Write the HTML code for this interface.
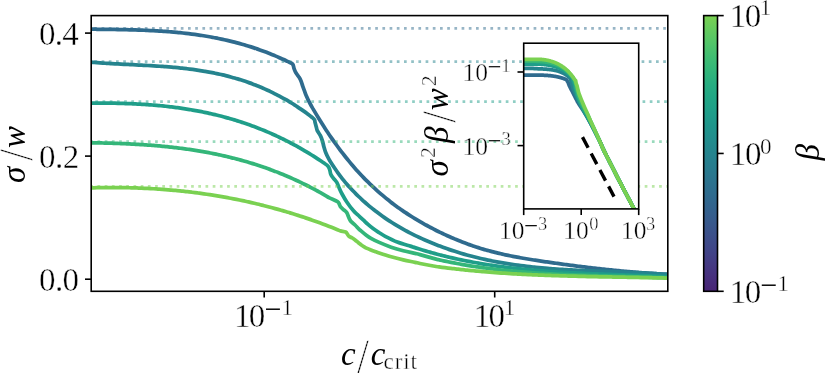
<!DOCTYPE html>
<html><head><meta charset="utf-8"><title>sigma/w vs c/c_crit</title>
<style>html,body{margin:0;padding:0;background:#fff;width:825px;height:373px;overflow:hidden}svg{display:block}text{font-family:"Liberation Serif",serif;fill:#000;stroke:#fff;stroke-width:0.4px}text.ns{stroke:none}</style></head><body>
<svg width="825" height="373" viewBox="0 0 825 373">
<rect x="0" y="0" width="825" height="373" fill="#fff"/>
<defs><clipPath id="axclip"><rect x="91.20" y="15.60" width="576.60" height="275.70"/></clipPath>
<clipPath id="inclip"><rect x="523.70" y="43.20" width="115.00" height="165.70"/></clipPath>
<linearGradient id="cbg" x1="0" y1="1" x2="0" y2="0">
<stop offset="0.000" stop-color="#482475"/>
<stop offset="0.050" stop-color="#472f7d"/>
<stop offset="0.100" stop-color="#443a83"/>
<stop offset="0.150" stop-color="#404588"/>
<stop offset="0.200" stop-color="#3c4f8a"/>
<stop offset="0.250" stop-color="#38598c"/>
<stop offset="0.300" stop-color="#33628d"/>
<stop offset="0.350" stop-color="#2f6b8e"/>
<stop offset="0.400" stop-color="#2c738e"/>
<stop offset="0.450" stop-color="#287c8e"/>
<stop offset="0.500" stop-color="#25848e"/>
<stop offset="0.550" stop-color="#228d8d"/>
<stop offset="0.600" stop-color="#1f958b"/>
<stop offset="0.650" stop-color="#1f9e89"/>
<stop offset="0.700" stop-color="#21a685"/>
<stop offset="0.750" stop-color="#27ad81"/>
<stop offset="0.800" stop-color="#32b67a"/>
<stop offset="0.850" stop-color="#40bd72"/>
<stop offset="0.900" stop-color="#52c569"/>
<stop offset="0.950" stop-color="#65cb5e"/>
<stop offset="1.000" stop-color="#7ad151"/>
</linearGradient></defs>
<g clip-path="url(#axclip)">
<path d="M91.00,29.20 C91.49,29.21 92.98,29.22 93.96,29.23 C94.95,29.24 95.94,29.25 96.93,29.26 C97.91,29.27 98.90,29.28 99.89,29.29 C100.88,29.30 101.86,29.31 102.85,29.32 C103.84,29.33 104.83,29.34 105.81,29.35 C106.80,29.36 107.79,29.38 108.78,29.39 C109.76,29.40 110.75,29.41 111.74,29.43 C112.73,29.44 113.71,29.45 114.70,29.47 C115.69,29.48 116.68,29.50 117.66,29.52 C118.65,29.53 119.64,29.55 120.63,29.57 C121.61,29.59 122.60,29.60 123.59,29.63 C124.58,29.65 125.56,29.67 126.55,29.69 C127.54,29.71 128.53,29.74 129.51,29.76 C130.50,29.79 131.49,29.81 132.48,29.84 C133.47,29.87 134.45,29.90 135.44,29.93 C136.43,29.96 137.42,29.99 138.40,30.02 C139.39,30.06 140.38,30.09 141.37,30.13 C142.35,30.17 143.34,30.20 144.33,30.25 C145.32,30.29 146.30,30.33 147.29,30.37 C148.28,30.42 149.27,30.46 150.25,30.51 C151.24,30.56 152.23,30.61 153.22,30.66 C154.20,30.72 155.19,30.77 156.18,30.83 C157.17,30.89 158.15,30.94 159.14,31.01 C160.13,31.07 161.12,31.13 162.10,31.20 C163.09,31.27 164.08,31.33 165.07,31.41 C166.05,31.48 167.04,31.55 168.03,31.63 C169.02,31.71 170.00,31.79 170.99,31.87 C171.98,31.95 172.97,32.04 173.96,32.13 C174.94,32.21 175.93,32.31 176.92,32.40 C177.91,32.49 178.89,32.59 179.88,32.69 C180.87,32.79 181.86,32.90 182.84,33.00 C183.83,33.11 184.82,33.22 185.81,33.33 C186.79,33.45 187.78,33.57 188.77,33.69 C189.76,33.81 190.74,33.93 191.73,34.06 C192.72,34.19 193.71,34.32 194.69,34.45 C195.68,34.59 196.67,34.73 197.66,34.87 C198.64,35.01 199.63,35.16 200.62,35.31 C201.61,35.46 202.59,35.61 203.58,35.77 C204.57,35.93 205.56,36.09 206.54,36.25 C207.53,36.42 208.52,36.59 209.51,36.77 C210.50,36.94 211.48,37.12 212.47,37.30 C213.46,37.49 214.45,37.67 215.43,37.87 C216.42,38.06 217.41,38.25 218.40,38.46 C219.38,38.66 220.37,38.86 221.36,39.07 C222.35,39.28 223.33,39.50 224.32,39.72 C225.31,39.94 226.30,40.16 227.28,40.39 C228.27,40.62 229.26,40.86 230.25,41.10 C231.23,41.34 232.22,41.58 233.21,41.83 C234.20,42.08 235.18,42.33 236.17,42.59 C237.16,42.86 238.15,43.12 239.13,43.39 C240.12,43.66 241.11,43.94 242.10,44.22 C243.08,44.50 244.07,44.79 245.06,45.08 C246.05,45.37 247.03,45.67 248.02,45.97 C249.01,46.28 250.00,46.59 250.99,46.90 C251.97,47.22 252.96,47.54 253.95,47.87 C254.94,48.19 255.92,48.52 256.91,48.86 C257.90,49.20 258.89,49.55 259.87,49.90 C260.86,50.25 261.85,50.61 262.84,50.97 C263.82,51.33 264.81,51.70 265.80,52.08 C266.79,52.45 267.77,52.84 268.76,53.22 C269.75,53.61 270.74,54.01 271.72,54.41 C272.71,54.81 273.70,55.22 274.69,55.63 C275.67,56.05 276.66,56.47 277.65,56.90 C278.64,57.33 279.62,57.76 280.61,58.20 C281.60,58.64 282.59,59.09 283.57,59.55 C284.56,60.00 285.55,60.47 286.54,60.94 C287.52,61.41 288.46,61.79 289.50,62.37 C290.54,62.94 292.03,63.34 292.80,64.40 C293.57,65.46 293.58,67.30 294.10,68.70 C294.62,70.10 295.03,71.32 295.90,72.80 C296.77,74.28 298.43,76.18 299.30,77.60 C300.17,79.02 300.53,79.88 301.10,81.30 C301.67,82.72 302.17,84.58 302.70,86.10 C303.23,87.62 303.68,88.75 304.30,90.40 C304.92,92.05 305.42,93.74 306.40,96.00 C307.38,98.26 309.07,101.77 310.20,103.96 C311.33,106.14 312.19,107.42 313.18,109.12 C314.17,110.82 315.17,112.49 316.16,114.15 C317.15,115.80 318.15,117.43 319.14,119.05 C320.13,120.66 321.13,122.25 322.12,123.81 C323.11,125.38 324.11,126.93 325.10,128.45 C326.09,129.98 327.09,131.48 328.08,132.97 C329.07,134.45 330.07,135.91 331.06,137.35 C332.05,138.80 333.05,140.22 334.04,141.62 C335.03,143.02 336.03,144.40 337.02,145.76 C338.01,147.12 339.01,148.46 340.00,149.79 C340.99,151.11 341.99,152.41 342.98,153.69 C343.97,154.97 344.97,156.24 345.96,157.48 C346.95,158.72 347.95,159.95 348.94,161.15 C349.93,162.36 350.93,163.55 351.92,164.71 C352.91,165.88 353.91,167.03 354.90,168.16 C355.89,169.29 356.89,170.41 357.88,171.50 C358.87,172.60 359.87,173.68 360.86,174.74 C361.85,175.80 362.85,176.84 363.84,177.87 C364.83,178.90 365.83,179.91 366.82,180.90 C367.81,181.90 368.81,182.88 369.80,183.84 C370.79,184.80 371.79,185.75 372.78,186.68 C373.77,187.61 374.77,188.53 375.76,189.43 C376.75,190.33 377.75,191.22 378.74,192.10 C379.73,192.97 380.73,193.83 381.72,194.67 C382.71,195.52 383.71,196.35 384.70,197.17 C385.69,197.99 386.69,198.80 387.68,199.59 C388.67,200.38 389.67,201.16 390.66,201.93 C391.65,202.70 392.65,203.46 393.64,204.20 C394.63,204.95 395.63,205.68 396.62,206.40 C397.61,207.13 398.61,207.84 399.60,208.54 C400.59,209.24 401.59,209.93 402.58,210.61 C403.57,211.29 404.57,211.96 405.56,212.62 C406.55,213.28 407.55,213.93 408.54,214.57 C409.53,215.21 410.53,215.84 411.52,216.47 C412.51,217.09 413.51,217.71 414.50,218.31 C415.49,218.92 416.49,219.52 417.48,220.11 C418.47,220.70 419.47,221.28 420.46,221.86 C421.45,222.44 422.45,223.01 423.44,223.57 C424.43,224.13 425.43,224.69 426.42,225.23 C427.41,225.78 428.41,226.32 429.40,226.86 C430.39,227.39 431.39,227.92 432.38,228.44 C433.37,228.96 434.37,229.47 435.36,229.97 C436.35,230.48 437.35,230.98 438.34,231.47 C439.33,231.96 440.33,232.45 441.32,232.93 C442.31,233.40 443.31,233.88 444.30,234.34 C445.29,234.80 446.29,235.26 447.28,235.71 C448.27,236.16 449.27,236.61 450.26,237.05 C451.25,237.48 452.25,237.91 453.24,238.34 C454.23,238.76 455.23,239.18 456.22,239.59 C457.21,240.00 458.21,240.40 459.20,240.80 C460.19,241.20 461.19,241.59 462.18,241.97 C463.17,242.36 464.17,242.74 465.16,243.11 C466.15,243.48 467.15,243.84 468.14,244.20 C469.13,244.56 470.13,244.91 471.12,245.26 C472.11,245.61 473.11,245.94 474.10,246.28 C475.09,246.61 476.09,246.94 477.08,247.26 C478.07,247.58 479.07,247.89 480.06,248.20 C481.05,248.51 482.05,248.81 483.04,249.10 C484.03,249.40 485.03,249.69 486.02,249.97 C487.01,250.25 488.01,250.53 489.00,250.80 C489.99,251.07 490.99,251.34 491.98,251.60 C492.97,251.86 493.97,252.11 494.96,252.36 C495.95,252.61 496.95,252.85 497.94,253.09 C498.93,253.33 499.93,253.57 500.92,253.80 C501.91,254.02 502.91,254.25 503.90,254.47 C504.89,254.69 505.89,254.90 506.88,255.12 C507.87,255.33 508.87,255.53 509.86,255.74 C510.85,255.94 511.85,256.14 512.84,256.33 C513.83,256.53 514.83,256.72 515.82,256.91 C516.81,257.10 517.81,257.28 518.80,257.46 C519.79,257.64 520.79,257.82 521.78,258.00 C522.77,258.17 523.77,258.35 524.76,258.51 C525.75,258.68 526.75,258.85 527.74,259.02 C528.73,259.18 529.73,259.34 530.72,259.50 C531.71,259.66 532.71,259.82 533.70,259.98 C534.69,260.13 535.69,260.29 536.68,260.44 C537.67,260.59 538.67,260.74 539.66,260.89 C540.65,261.04 541.65,261.19 542.64,261.33 C543.63,261.48 544.63,261.63 545.62,261.77 C546.61,261.92 547.61,262.06 548.60,262.20 C549.59,262.35 550.59,262.49 551.58,262.63 C552.57,262.77 553.57,262.91 554.56,263.05 C555.55,263.19 556.55,263.33 557.54,263.47 C558.53,263.61 559.53,263.74 560.52,263.88 C561.51,264.02 562.51,264.15 563.50,264.29 C564.49,264.42 565.49,264.56 566.48,264.69 C567.47,264.82 568.47,264.95 569.46,265.08 C570.45,265.22 571.45,265.35 572.44,265.47 C573.43,265.60 574.43,265.73 575.42,265.86 C576.41,265.99 577.41,266.11 578.40,266.24 C579.39,266.36 580.39,266.49 581.38,266.61 C582.37,266.73 583.37,266.86 584.36,266.98 C585.35,267.10 586.35,267.22 587.34,267.34 C588.33,267.46 589.33,267.58 590.32,267.69 C591.31,267.81 592.31,267.93 593.30,268.04 C594.29,268.16 595.29,268.27 596.28,268.38 C597.27,268.50 598.27,268.61 599.26,268.72 C600.25,268.83 601.25,268.94 602.24,269.05 C603.23,269.15 604.23,269.26 605.22,269.37 C606.21,269.47 607.21,269.58 608.20,269.68 C609.19,269.79 610.19,269.89 611.18,269.99 C612.17,270.09 613.17,270.19 614.16,270.29 C615.15,270.39 616.15,270.49 617.14,270.58 C618.13,270.68 619.13,270.77 620.12,270.87 C621.11,270.96 622.11,271.05 623.10,271.15 C624.09,271.24 625.09,271.33 626.08,271.42 C627.07,271.50 628.07,271.59 629.06,271.68 C630.05,271.76 631.05,271.85 632.04,271.93 C633.03,272.02 634.03,272.10 635.02,272.18 C636.01,272.26 637.01,272.34 638.00,272.42 C638.99,272.50 639.99,272.57 640.98,272.65 C641.97,272.72 642.97,272.80 643.96,272.87 C644.95,272.94 645.95,273.01 646.94,273.08 C647.93,273.15 648.93,273.22 649.92,273.29 C650.91,273.36 651.91,273.42 652.90,273.49 C653.89,273.55 654.89,273.61 655.88,273.67 C656.87,273.73 657.87,273.79 658.86,273.85 C659.85,273.91 660.85,273.97 661.84,274.02 C662.83,274.08 663.83,274.13 664.82,274.18 C665.81,274.23 667.30,274.31 667.80,274.33" fill="none" stroke="#2f6b8e" stroke-width="3.75" stroke-linejoin="round" stroke-linecap="butt"/>
<path d="M91.00,62.17 C91.50,62.21 92.99,62.34 93.99,62.42 C94.99,62.49 95.99,62.57 96.98,62.65 C97.98,62.72 98.98,62.79 99.97,62.86 C100.97,62.93 101.97,63.00 102.97,63.07 C103.96,63.13 104.96,63.20 105.96,63.26 C106.96,63.32 107.95,63.38 108.95,63.45 C109.95,63.51 110.94,63.56 111.94,63.62 C112.94,63.68 113.94,63.73 114.93,63.79 C115.93,63.85 116.93,63.90 117.92,63.95 C118.92,64.01 119.92,64.06 120.92,64.11 C121.91,64.16 122.91,64.21 123.91,64.26 C124.91,64.32 125.90,64.37 126.90,64.42 C127.90,64.47 128.89,64.52 129.89,64.57 C130.89,64.62 131.89,64.67 132.88,64.72 C133.88,64.77 134.88,64.82 135.88,64.87 C136.87,64.92 137.87,64.97 138.87,65.02 C139.86,65.07 140.86,65.12 141.86,65.18 C142.86,65.23 143.85,65.28 144.85,65.34 C145.85,65.39 146.84,65.45 147.84,65.50 C148.84,65.56 149.84,65.62 150.83,65.68 C151.83,65.74 152.83,65.80 153.82,65.86 C154.82,65.92 155.82,65.98 156.82,66.05 C157.81,66.11 158.81,66.18 159.81,66.25 C160.81,66.32 161.80,66.39 162.80,66.46 C163.80,66.54 164.79,66.61 165.79,66.69 C166.79,66.76 167.79,66.84 168.78,66.93 C169.78,67.01 170.78,67.09 171.77,67.18 C172.77,67.27 173.77,67.36 174.77,67.45 C175.76,67.54 176.76,67.64 177.76,67.74 C178.76,67.84 179.75,67.94 180.75,68.04 C181.75,68.15 182.74,68.26 183.74,68.37 C184.74,68.48 185.74,68.60 186.73,68.71 C187.73,68.83 188.73,68.96 189.72,69.08 C190.72,69.21 191.72,69.34 192.72,69.47 C193.71,69.61 194.71,69.75 195.71,69.89 C196.71,70.03 197.70,70.18 198.70,70.33 C199.70,70.48 200.69,70.64 201.69,70.80 C202.69,70.96 203.69,71.12 204.68,71.29 C205.68,71.46 206.68,71.64 207.67,71.82 C208.67,72.00 209.67,72.18 210.67,72.37 C211.66,72.56 212.66,72.76 213.66,72.96 C214.66,73.16 215.65,73.37 216.65,73.58 C217.65,73.79 218.64,74.01 219.64,74.23 C220.64,74.45 221.64,74.68 222.63,74.92 C223.63,75.15 224.63,75.39 225.62,75.64 C226.62,75.89 227.62,76.14 228.62,76.40 C229.61,76.66 230.61,76.93 231.61,77.20 C232.61,77.47 233.60,77.75 234.60,78.04 C235.60,78.32 236.59,78.61 237.59,78.91 C238.59,79.21 239.59,79.52 240.58,79.84 C241.58,80.15 242.58,80.47 243.57,80.80 C244.57,81.13 245.57,81.46 246.57,81.81 C247.56,82.15 248.56,82.50 249.56,82.86 C250.56,83.22 251.55,83.58 252.55,83.96 C253.55,84.33 254.54,84.72 255.54,85.11 C256.54,85.50 257.54,85.90 258.53,86.30 C259.53,86.71 260.53,87.12 261.52,87.55 C262.52,87.97 263.52,88.40 264.52,88.85 C265.51,89.29 266.51,89.74 267.51,90.20 C268.51,90.65 269.50,91.12 270.50,91.60 C271.50,92.08 272.49,92.56 273.49,93.06 C274.49,93.55 275.49,94.06 276.48,94.57 C277.48,95.08 278.48,95.61 279.47,96.14 C280.47,96.67 281.47,97.22 282.47,97.77 C283.46,98.32 284.46,98.89 285.46,99.46 C286.46,100.03 287.45,100.61 288.45,101.21 C289.45,101.80 290.44,102.40 291.44,103.02 C292.44,103.63 293.44,104.26 294.43,104.89 C295.43,105.53 296.43,106.17 297.42,106.83 C298.42,107.49 299.42,108.15 300.42,108.83 C301.41,109.51 302.41,110.20 303.41,110.90 C304.41,111.60 304.65,111.69 306.40,113.04 C308.15,114.39 312.47,117.47 313.90,119.00 C315.33,120.53 314.60,120.87 315.00,122.20 C315.40,123.53 315.92,125.60 316.30,127.00 C316.68,128.40 316.62,129.15 317.30,130.60 C317.98,132.05 319.53,133.95 320.40,135.70 C321.27,137.45 321.93,139.32 322.50,141.10 C323.07,142.88 323.27,144.50 323.80,146.40 C324.33,148.30 324.85,150.36 325.70,152.50 C326.55,154.64 327.87,157.29 328.90,159.21 C329.93,161.14 330.90,162.47 331.90,164.03 C332.90,165.59 333.90,167.10 334.90,168.56 C335.90,170.03 336.90,171.44 337.90,172.82 C338.90,174.20 339.90,175.54 340.90,176.84 C341.90,178.13 342.90,179.39 343.90,180.62 C344.90,181.84 345.89,183.03 346.89,184.19 C347.89,185.35 348.89,186.47 349.89,187.57 C350.89,188.66 351.89,189.73 352.89,190.77 C353.89,191.81 354.89,192.83 355.89,193.82 C356.89,194.82 357.89,195.78 358.89,196.74 C359.89,197.69 360.89,198.62 361.89,199.54 C362.89,200.45 363.89,201.35 364.89,202.23 C365.89,203.12 366.89,203.98 367.89,204.83 C368.89,205.69 369.89,206.52 370.89,207.34 C371.89,208.16 372.89,208.97 373.89,209.76 C374.89,210.55 375.89,211.33 376.89,212.09 C377.89,212.85 378.89,213.60 379.88,214.34 C380.88,215.07 381.88,215.79 382.88,216.50 C383.88,217.21 384.88,217.90 385.88,218.59 C386.88,219.27 387.88,219.94 388.88,220.60 C389.88,221.26 390.88,221.90 391.88,222.54 C392.88,223.17 393.88,223.79 394.88,224.41 C395.88,225.02 396.88,225.62 397.88,226.21 C398.88,226.80 399.88,227.38 400.88,227.95 C401.88,228.52 402.88,229.08 403.88,229.63 C404.88,230.18 405.88,230.73 406.88,231.26 C407.88,231.79 408.88,232.31 409.88,232.83 C410.88,233.34 411.88,233.85 412.88,234.35 C413.87,234.85 414.87,235.34 415.87,235.82 C416.87,236.30 417.87,236.78 418.87,237.24 C419.87,237.71 420.87,238.17 421.87,238.63 C422.87,239.08 423.87,239.53 424.87,239.97 C425.87,240.42 426.87,240.85 427.87,241.28 C428.87,241.71 429.87,242.13 430.87,242.54 C431.87,242.96 432.87,243.37 433.87,243.77 C434.87,244.17 435.87,244.57 436.87,244.96 C437.87,245.35 438.87,245.74 439.87,246.11 C440.87,246.49 441.87,246.86 442.87,247.23 C443.87,247.60 444.87,247.96 445.87,248.31 C446.87,248.66 447.86,249.01 448.86,249.36 C449.86,249.70 450.86,250.04 451.86,250.37 C452.86,250.70 453.86,251.02 454.86,251.34 C455.86,251.66 456.86,251.98 457.86,252.29 C458.86,252.60 459.86,252.90 460.86,253.20 C461.86,253.50 462.86,253.79 463.86,254.08 C464.86,254.37 465.86,254.65 466.86,254.93 C467.86,255.21 468.86,255.48 469.86,255.75 C470.86,256.01 471.86,256.28 472.86,256.53 C473.86,256.79 474.86,257.04 475.86,257.29 C476.86,257.54 477.86,257.78 478.86,258.02 C479.86,258.26 480.86,258.50 481.85,258.72 C482.85,258.95 483.85,259.18 484.85,259.40 C485.85,259.62 486.85,259.84 487.85,260.05 C488.85,260.26 489.85,260.47 490.85,260.67 C491.85,260.87 492.85,261.07 493.85,261.27 C494.85,261.46 495.85,261.65 496.85,261.84 C497.85,262.02 498.85,262.21 499.85,262.39 C500.85,262.56 501.85,262.74 502.85,262.91 C503.85,263.08 504.85,263.25 505.85,263.41 C506.85,263.58 507.85,263.74 508.85,263.89 C509.85,264.05 510.85,264.20 511.85,264.35 C512.85,264.50 513.85,264.64 514.85,264.79 C515.84,264.93 516.84,265.07 517.84,265.20 C518.84,265.34 519.84,265.47 520.84,265.60 C521.84,265.73 522.84,265.86 523.84,265.98 C524.84,266.10 525.84,266.22 526.84,266.34 C527.84,266.46 528.84,266.57 529.84,266.68 C530.84,266.79 531.84,266.90 532.84,267.01 C533.84,267.11 534.84,267.22 535.84,267.32 C536.84,267.42 537.84,267.52 538.84,267.61 C539.84,267.71 540.84,267.80 541.84,267.89 C542.84,267.98 543.84,268.07 544.84,268.15 C545.84,268.24 546.84,268.32 547.84,268.40 C548.84,268.48 549.83,268.56 550.83,268.64 C551.83,268.72 552.83,268.79 553.83,268.87 C554.83,268.94 555.83,269.01 556.83,269.08 C557.83,269.15 558.83,269.22 559.83,269.28 C560.83,269.35 561.83,269.41 562.83,269.47 C563.83,269.53 564.83,269.60 565.83,269.65 C566.83,269.71 567.83,269.77 568.83,269.83 C569.83,269.88 570.83,269.94 571.83,269.99 C572.83,270.04 573.83,270.10 574.83,270.15 C575.83,270.20 576.83,270.25 577.83,270.30 C578.83,270.34 579.83,270.39 580.83,270.44 C581.83,270.48 582.83,270.53 583.82,270.57 C584.82,270.62 585.82,270.66 586.82,270.70 C587.82,270.75 588.82,270.79 589.82,270.83 C590.82,270.87 591.82,270.91 592.82,270.95 C593.82,270.99 594.82,271.03 595.82,271.07 C596.82,271.11 597.82,271.15 598.82,271.19 C599.82,271.23 600.82,271.26 601.82,271.30 C602.82,271.34 603.82,271.38 604.82,271.41 C605.82,271.45 606.82,271.49 607.82,271.53 C608.82,271.56 609.82,271.60 610.82,271.64 C611.82,271.67 612.82,271.71 613.82,271.75 C614.82,271.79 615.82,271.82 616.82,271.86 C617.81,271.90 618.81,271.94 619.81,271.98 C620.81,272.02 621.81,272.06 622.81,272.09 C623.81,272.13 624.81,272.17 625.81,272.22 C626.81,272.26 627.81,272.30 628.81,272.34 C629.81,272.38 630.81,272.42 631.81,272.47 C632.81,272.51 633.81,272.56 634.81,272.60 C635.81,272.65 636.81,272.69 637.81,272.74 C638.81,272.79 639.81,272.84 640.81,272.89 C641.81,272.94 642.81,272.99 643.81,273.04 C644.81,273.09 645.81,273.15 646.81,273.20 C647.81,273.26 648.81,273.31 649.81,273.37 C650.81,273.43 651.80,273.49 652.80,273.55 C653.80,273.61 654.80,273.67 655.80,273.73 C656.80,273.80 657.80,273.86 658.80,273.93 C659.80,274.00 660.80,274.07 661.80,274.14 C662.80,274.21 663.80,274.28 664.80,274.36 C665.80,274.43 667.30,274.55 667.80,274.59" fill="none" stroke="#25848e" stroke-width="3.75" stroke-linejoin="round" stroke-linecap="butt"/>
<path d="M91.00,103.13 C91.50,103.13 92.99,103.12 93.99,103.11 C94.98,103.11 95.98,103.10 96.97,103.10 C97.97,103.10 98.97,103.10 99.96,103.10 C100.96,103.10 101.95,103.10 102.95,103.10 C103.95,103.11 104.94,103.11 105.94,103.12 C106.93,103.13 107.93,103.14 108.92,103.15 C109.92,103.16 110.92,103.17 111.91,103.19 C112.91,103.20 113.90,103.22 114.90,103.24 C115.89,103.25 116.89,103.27 117.89,103.30 C118.88,103.32 119.88,103.34 120.87,103.37 C121.87,103.40 122.86,103.42 123.86,103.46 C124.86,103.49 125.85,103.52 126.85,103.55 C127.84,103.59 128.84,103.63 129.84,103.67 C130.83,103.71 131.83,103.75 132.82,103.79 C133.82,103.84 134.81,103.89 135.81,103.94 C136.81,103.99 137.80,104.04 138.80,104.09 C139.79,104.15 140.79,104.20 141.78,104.26 C142.78,104.32 143.78,104.39 144.77,104.45 C145.77,104.52 146.76,104.59 147.76,104.66 C148.76,104.73 149.75,104.80 150.75,104.88 C151.74,104.96 152.74,105.04 153.73,105.12 C154.73,105.20 155.73,105.29 156.72,105.38 C157.72,105.46 158.71,105.56 159.71,105.65 C160.70,105.75 161.70,105.84 162.70,105.95 C163.69,106.05 164.69,106.15 165.68,106.26 C166.68,106.37 167.68,106.48 168.67,106.59 C169.67,106.71 170.66,106.83 171.66,106.95 C172.65,107.07 173.65,107.19 174.65,107.32 C175.64,107.45 176.64,107.58 177.63,107.72 C178.63,107.85 179.62,107.99 180.62,108.14 C181.62,108.28 182.61,108.43 183.61,108.58 C184.60,108.73 185.60,108.88 186.59,109.04 C187.59,109.20 188.59,109.36 189.58,109.53 C190.58,109.69 191.57,109.86 192.57,110.03 C193.57,110.21 194.56,110.39 195.56,110.57 C196.55,110.75 197.55,110.94 198.54,111.13 C199.54,111.32 200.54,111.51 201.53,111.71 C202.53,111.91 203.52,112.11 204.52,112.32 C205.51,112.53 206.51,112.74 207.51,112.95 C208.50,113.17 209.50,113.39 210.49,113.62 C211.49,113.84 212.49,114.07 213.48,114.30 C214.48,114.54 215.47,114.78 216.47,115.02 C217.46,115.26 218.46,115.51 219.46,115.76 C220.45,116.02 221.45,116.27 222.44,116.54 C223.44,116.80 224.43,117.06 225.43,117.34 C226.43,117.61 227.42,117.88 228.42,118.17 C229.41,118.45 230.41,118.73 231.41,119.03 C232.40,119.32 233.40,119.62 234.39,119.92 C235.39,120.22 236.38,120.53 237.38,120.84 C238.38,121.15 239.37,121.47 240.37,121.79 C241.36,122.11 242.36,122.44 243.35,122.77 C244.35,123.11 245.35,123.45 246.34,123.79 C247.34,124.14 248.33,124.48 249.33,124.84 C250.32,125.20 251.32,125.56 252.32,125.92 C253.31,126.29 254.31,126.66 255.30,127.04 C256.30,127.42 257.30,127.80 258.29,128.19 C259.29,128.58 260.28,128.97 261.28,129.37 C262.27,129.77 263.27,130.18 264.27,130.59 C265.26,131.00 266.26,131.42 267.25,131.85 C268.25,132.27 269.24,132.70 270.24,133.14 C271.24,133.57 272.23,134.02 273.23,134.46 C274.22,134.91 275.22,135.37 276.22,135.83 C277.21,136.29 278.21,136.76 279.20,137.23 C280.20,137.70 281.19,138.18 282.19,138.67 C283.19,139.16 284.18,139.65 285.18,140.15 C286.17,140.65 287.17,141.15 288.16,141.67 C289.16,142.18 290.16,142.70 291.15,143.22 C292.15,143.75 293.14,144.28 294.14,144.82 C295.14,145.36 296.13,145.90 297.13,146.45 C298.12,147.01 299.12,147.56 300.11,148.13 C301.11,148.70 302.11,149.27 303.10,149.85 C304.10,150.43 305.09,151.01 306.09,151.61 C307.08,152.20 308.08,152.80 309.08,153.41 C310.07,154.02 311.07,154.63 312.06,155.25 C313.06,155.88 314.05,156.51 315.05,157.14 C316.05,157.78 317.04,158.42 318.04,159.07 C319.03,159.72 320.03,160.38 321.03,161.05 C322.02,161.71 323.02,162.39 324.01,163.07 C325.01,163.75 326.24,164.48 327.00,165.13 C327.76,165.79 328.13,166.19 328.60,167.00 C329.07,167.81 329.42,168.73 329.80,170.00 C330.18,171.27 330.28,173.22 330.90,174.60 C331.52,175.98 332.52,177.00 333.50,178.30 C334.48,179.60 335.85,180.78 336.80,182.40 C337.75,184.02 338.37,186.15 339.20,188.00 C340.03,189.85 340.53,191.17 341.80,193.50 C343.07,195.83 344.85,199.12 346.80,202.00 C348.75,204.88 351.55,208.55 353.50,210.80 C355.45,213.05 356.83,213.93 358.50,215.50 C360.17,217.07 361.92,218.72 363.50,220.20 C365.08,221.68 366.40,223.00 368.00,224.40 C369.60,225.80 371.27,227.25 373.10,228.60 C374.93,229.95 376.98,231.22 379.00,232.50 C381.02,233.78 382.15,234.72 385.20,236.30 C388.25,237.88 393.10,240.36 397.30,242.00 C401.50,243.64 407.72,245.28 410.40,246.13 C413.08,246.98 412.40,246.80 413.39,247.13 C414.39,247.45 415.39,247.78 416.39,248.10 C417.38,248.42 418.38,248.73 419.38,249.04 C420.38,249.35 421.37,249.66 422.37,249.97 C423.37,250.27 424.37,250.57 425.37,250.86 C426.36,251.16 427.36,251.45 428.36,251.74 C429.36,252.02 430.35,252.31 431.35,252.59 C432.35,252.86 433.35,253.14 434.34,253.41 C435.34,253.68 436.34,253.95 437.34,254.22 C438.33,254.48 439.33,254.74 440.33,255.00 C441.33,255.25 442.33,255.51 443.32,255.76 C444.32,256.01 445.32,256.25 446.32,256.50 C447.31,256.74 448.31,256.98 449.31,257.21 C450.31,257.45 451.30,257.68 452.30,257.91 C453.30,258.14 454.30,258.36 455.30,258.58 C456.29,258.80 457.29,259.02 458.29,259.24 C459.29,259.45 460.28,259.66 461.28,259.87 C462.28,260.08 463.28,260.29 464.27,260.49 C465.27,260.69 466.27,260.89 467.27,261.09 C468.27,261.28 469.26,261.47 470.26,261.66 C471.26,261.85 472.26,262.04 473.25,262.22 C474.25,262.41 475.25,262.59 476.25,262.76 C477.24,262.94 478.24,263.12 479.24,263.29 C480.24,263.46 481.23,263.63 482.23,263.80 C483.23,263.96 484.23,264.12 485.23,264.29 C486.22,264.45 487.22,264.60 488.22,264.76 C489.22,264.91 490.21,265.07 491.21,265.22 C492.21,265.37 493.21,265.51 494.20,265.66 C495.20,265.80 496.20,265.94 497.20,266.08 C498.20,266.22 499.19,266.36 500.19,266.49 C501.19,266.63 502.19,266.76 503.18,266.89 C504.18,267.02 505.18,267.15 506.18,267.27 C507.17,267.40 508.17,267.52 509.17,267.64 C510.17,267.76 511.17,267.88 512.16,268.00 C513.16,268.11 514.16,268.23 515.16,268.34 C516.15,268.45 517.15,268.56 518.15,268.67 C519.15,268.77 520.14,268.88 521.14,268.98 C522.14,269.08 523.14,269.19 524.13,269.29 C525.13,269.38 526.13,269.48 527.13,269.58 C528.13,269.67 529.12,269.77 530.12,269.86 C531.12,269.95 532.12,270.04 533.11,270.13 C534.11,270.22 535.11,270.30 536.11,270.39 C537.10,270.47 538.10,270.55 539.10,270.64 C540.10,270.72 541.10,270.80 542.09,270.87 C543.09,270.95 544.09,271.03 545.09,271.10 C546.08,271.18 547.08,271.25 548.08,271.32 C549.08,271.40 550.07,271.47 551.07,271.53 C552.07,271.60 553.07,271.67 554.07,271.74 C555.06,271.80 556.06,271.87 557.06,271.93 C558.06,272.00 559.05,272.06 560.05,272.12 C561.05,272.18 562.05,272.24 563.04,272.30 C564.04,272.36 565.04,272.42 566.04,272.47 C567.03,272.53 568.03,272.58 569.03,272.64 C570.03,272.69 571.03,272.75 572.02,272.80 C573.02,272.85 574.02,272.90 575.02,272.95 C576.01,273.00 577.01,273.05 578.01,273.10 C579.01,273.15 580.00,273.20 581.00,273.24 C582.00,273.29 583.00,273.34 584.00,273.38 C584.99,273.43 585.99,273.47 586.99,273.52 C587.99,273.56 588.98,273.60 589.98,273.65 C590.98,273.69 591.98,273.73 592.97,273.77 C593.97,273.81 594.97,273.86 595.97,273.90 C596.97,273.94 597.96,273.98 598.96,274.02 C599.96,274.06 600.96,274.10 601.95,274.13 C602.95,274.17 603.95,274.21 604.95,274.25 C605.94,274.29 606.94,274.33 607.94,274.36 C608.94,274.40 609.93,274.44 610.93,274.48 C611.93,274.51 612.93,274.55 613.93,274.59 C614.92,274.62 615.92,274.66 616.92,274.70 C617.92,274.73 618.91,274.77 619.91,274.81 C620.91,274.84 621.91,274.88 622.90,274.92 C623.90,274.95 624.90,274.99 625.90,275.03 C626.90,275.06 627.89,275.10 628.89,275.14 C629.89,275.17 630.89,275.21 631.88,275.25 C632.88,275.29 633.88,275.32 634.88,275.36 C635.87,275.40 636.87,275.44 637.87,275.48 C638.87,275.52 639.87,275.56 640.86,275.60 C641.86,275.63 642.86,275.67 643.86,275.72 C644.85,275.76 645.85,275.80 646.85,275.84 C647.85,275.88 648.84,275.92 649.84,275.96 C650.84,276.01 651.84,276.05 652.83,276.09 C653.83,276.14 654.83,276.18 655.83,276.23 C656.83,276.27 657.82,276.32 658.82,276.37 C659.82,276.41 660.82,276.46 661.81,276.51 C662.81,276.56 663.81,276.61 664.81,276.66 C665.80,276.71 667.30,276.79 667.80,276.81" fill="none" stroke="#1f9e89" stroke-width="3.75" stroke-linejoin="round" stroke-linecap="butt"/>
<path d="M91.00,142.76 C91.50,142.77 92.99,142.79 93.98,142.81 C94.97,142.83 95.97,142.85 96.96,142.87 C97.95,142.89 98.95,142.91 99.94,142.93 C100.93,142.95 101.93,142.97 102.92,143.00 C103.91,143.02 104.91,143.05 105.90,143.07 C106.89,143.10 107.89,143.13 108.88,143.16 C109.87,143.18 110.87,143.21 111.86,143.24 C112.85,143.27 113.85,143.31 114.84,143.34 C115.83,143.37 116.83,143.41 117.82,143.44 C118.81,143.48 119.81,143.52 120.80,143.56 C121.79,143.60 122.79,143.64 123.78,143.68 C124.77,143.72 125.77,143.77 126.76,143.81 C127.75,143.86 128.75,143.90 129.74,143.95 C130.73,144.00 131.73,144.05 132.72,144.10 C133.71,144.15 134.71,144.21 135.70,144.26 C136.69,144.32 137.69,144.38 138.68,144.44 C139.67,144.50 140.67,144.56 141.66,144.62 C142.65,144.68 143.65,144.75 144.64,144.82 C145.63,144.88 146.63,144.95 147.62,145.02 C148.61,145.09 149.61,145.17 150.60,145.24 C151.59,145.32 152.59,145.40 153.58,145.48 C154.57,145.56 155.57,145.64 156.56,145.73 C157.55,145.81 158.55,145.90 159.54,145.99 C160.53,146.08 161.53,146.17 162.52,146.26 C163.51,146.36 164.51,146.45 165.50,146.55 C166.49,146.65 167.49,146.75 168.48,146.86 C169.47,146.96 170.47,147.07 171.46,147.18 C172.45,147.29 173.45,147.40 174.44,147.52 C175.43,147.63 176.43,147.75 177.42,147.87 C178.41,147.99 179.41,148.12 180.40,148.24 C181.39,148.37 182.39,148.50 183.38,148.63 C184.37,148.76 185.37,148.90 186.36,149.04 C187.35,149.18 188.35,149.32 189.34,149.46 C190.33,149.61 191.33,149.75 192.32,149.90 C193.31,150.06 194.31,150.21 195.30,150.37 C196.29,150.52 197.29,150.68 198.28,150.85 C199.27,151.01 200.27,151.18 201.26,151.35 C202.25,151.52 203.25,151.69 204.24,151.87 C205.23,152.05 206.23,152.23 207.22,152.41 C208.21,152.60 209.21,152.79 210.20,152.98 C211.19,153.17 212.19,153.37 213.18,153.56 C214.17,153.76 215.17,153.97 216.16,154.17 C217.15,154.38 218.15,154.59 219.14,154.80 C220.13,155.02 221.13,155.23 222.12,155.46 C223.11,155.68 224.11,155.90 225.10,156.13 C226.09,156.36 227.09,156.59 228.08,156.83 C229.07,157.07 230.07,157.31 231.06,157.56 C232.05,157.80 233.05,158.05 234.04,158.31 C235.03,158.56 236.03,158.82 237.02,159.08 C238.01,159.34 239.01,159.61 240.00,159.88 C240.99,160.15 241.99,160.43 242.98,160.71 C243.97,160.99 244.97,161.27 245.96,161.56 C246.95,161.85 247.95,162.14 248.94,162.44 C249.93,162.73 250.93,163.04 251.92,163.34 C252.91,163.65 253.91,163.96 254.90,164.28 C255.89,164.59 256.89,164.91 257.88,165.24 C258.87,165.56 259.87,165.89 260.86,166.23 C261.85,166.56 262.85,166.90 263.84,167.25 C264.83,167.59 265.83,167.94 266.82,168.29 C267.81,168.65 268.81,169.01 269.80,169.37 C270.79,169.74 271.79,170.11 272.78,170.48 C273.77,170.86 274.77,171.23 275.76,171.62 C276.75,172.00 277.75,172.39 278.74,172.79 C279.73,173.18 280.73,173.58 281.72,173.99 C282.71,174.40 283.71,174.81 284.70,175.22 C285.69,175.64 286.69,176.06 287.68,176.49 C288.67,176.92 289.67,177.35 290.66,177.79 C291.65,178.23 292.65,178.67 293.64,179.12 C294.63,179.57 295.63,180.02 296.62,180.48 C297.61,180.94 298.61,181.41 299.60,181.88 C300.59,182.35 301.59,182.83 302.58,183.32 C303.57,183.80 304.57,184.29 305.56,184.78 C306.55,185.28 307.55,185.78 308.54,186.29 C309.53,186.80 310.53,187.31 311.52,187.83 C312.51,188.35 313.51,188.87 314.50,189.40 C315.49,189.93 316.49,190.47 317.48,191.01 C318.47,191.56 319.47,192.11 320.46,192.66 C321.45,193.22 322.45,193.78 323.44,194.35 C324.43,194.92 325.43,195.49 326.42,196.07 C327.41,196.66 327.55,196.92 329.40,197.84 C331.25,198.76 335.90,200.66 337.50,201.60 C339.10,202.54 338.52,202.67 339.00,203.50 C339.48,204.33 339.67,205.58 340.40,206.60 C341.13,207.62 342.37,208.63 343.40,209.60 C344.43,210.57 345.73,211.17 346.60,212.40 C347.47,213.63 347.90,215.53 348.60,217.00 C349.30,218.47 349.73,219.87 350.80,221.20 C351.87,222.53 353.68,223.72 355.00,225.00 C356.32,226.28 357.70,227.92 358.70,228.90 C359.70,229.88 359.78,229.88 361.00,230.90 C362.22,231.92 364.33,233.75 366.00,235.00 C367.67,236.25 368.80,237.17 371.00,238.40 C373.20,239.63 375.83,240.93 379.20,242.40 C382.57,243.87 387.18,245.80 391.20,247.20 C395.22,248.60 399.33,249.77 403.30,250.80 C407.27,251.83 412.22,252.77 415.00,253.40 C417.78,254.03 416.48,253.64 420.00,254.60 C423.52,255.56 432.92,258.27 436.10,259.14 C439.28,260.01 438.08,259.60 439.07,259.82 C440.06,260.04 441.05,260.26 442.04,260.48 C443.03,260.69 444.02,260.91 445.01,261.12 C446.00,261.33 446.99,261.53 447.98,261.74 C448.97,261.94 449.96,262.14 450.95,262.34 C451.94,262.53 452.93,262.73 453.92,262.92 C454.91,263.11 455.90,263.30 456.89,263.48 C457.88,263.67 458.87,263.85 459.86,264.03 C460.85,264.21 461.84,264.38 462.83,264.56 C463.82,264.73 464.81,264.90 465.81,265.07 C466.80,265.24 467.79,265.40 468.78,265.56 C469.77,265.73 470.76,265.89 471.75,266.04 C472.74,266.20 473.73,266.35 474.72,266.50 C475.71,266.66 476.70,266.80 477.69,266.95 C478.68,267.10 479.67,267.24 480.66,267.38 C481.65,267.52 482.64,267.66 483.63,267.80 C484.62,267.93 485.61,268.07 486.60,268.20 C487.59,268.33 488.58,268.46 489.57,268.58 C490.56,268.71 491.55,268.83 492.54,268.96 C493.53,269.08 494.52,269.20 495.51,269.32 C496.50,269.43 497.49,269.55 498.48,269.66 C499.47,269.77 500.46,269.88 501.45,269.99 C502.44,270.10 503.43,270.21 504.42,270.31 C505.41,270.42 506.40,270.52 507.39,270.62 C508.38,270.72 509.37,270.82 510.36,270.91 C511.35,271.01 512.34,271.10 513.33,271.20 C514.32,271.29 515.31,271.38 516.30,271.47 C517.29,271.56 518.28,271.64 519.27,271.73 C520.26,271.81 521.25,271.90 522.24,271.98 C523.24,272.06 524.23,272.14 525.22,272.22 C526.21,272.29 527.20,272.37 528.19,272.45 C529.18,272.52 530.17,272.59 531.16,272.66 C532.15,272.74 533.14,272.81 534.13,272.87 C535.12,272.94 536.11,273.01 537.10,273.07 C538.09,273.14 539.08,273.20 540.07,273.27 C541.06,273.33 542.05,273.39 543.04,273.45 C544.03,273.51 545.02,273.57 546.01,273.63 C547.00,273.68 547.99,273.74 548.98,273.79 C549.97,273.85 550.96,273.90 551.95,273.95 C552.94,274.01 553.93,274.06 554.92,274.11 C555.91,274.16 556.90,274.21 557.89,274.25 C558.88,274.30 559.87,274.35 560.86,274.39 C561.85,274.44 562.84,274.48 563.83,274.53 C564.82,274.57 565.81,274.61 566.80,274.66 C567.79,274.70 568.78,274.74 569.77,274.78 C570.76,274.82 571.75,274.86 572.74,274.90 C573.73,274.93 574.72,274.97 575.71,275.01 C576.70,275.05 577.69,275.08 578.68,275.12 C579.67,275.15 580.66,275.19 581.66,275.22 C582.65,275.26 583.64,275.29 584.63,275.32 C585.62,275.36 586.61,275.39 587.60,275.42 C588.59,275.45 589.58,275.48 590.57,275.52 C591.56,275.55 592.55,275.58 593.54,275.61 C594.53,275.64 595.52,275.67 596.51,275.70 C597.50,275.73 598.49,275.75 599.48,275.78 C600.47,275.81 601.46,275.84 602.45,275.87 C603.44,275.90 604.43,275.93 605.42,275.95 C606.41,275.98 607.40,276.01 608.39,276.04 C609.38,276.06 610.37,276.09 611.36,276.12 C612.35,276.15 613.34,276.17 614.33,276.20 C615.32,276.23 616.31,276.26 617.30,276.28 C618.29,276.31 619.28,276.34 620.27,276.37 C621.26,276.39 622.25,276.42 623.24,276.45 C624.23,276.48 625.22,276.50 626.21,276.53 C627.20,276.56 628.19,276.59 629.18,276.62 C630.17,276.65 631.16,276.68 632.15,276.70 C633.14,276.73 634.13,276.76 635.12,276.79 C636.11,276.82 637.10,276.85 638.09,276.89 C639.09,276.92 640.08,276.95 641.07,276.98 C642.06,277.01 643.05,277.04 644.04,277.08 C645.03,277.11 646.02,277.14 647.01,277.18 C648.00,277.21 648.99,277.24 649.98,277.28 C650.97,277.32 651.96,277.35 652.95,277.39 C653.94,277.42 654.93,277.46 655.92,277.50 C656.91,277.54 657.90,277.58 658.89,277.62 C659.88,277.66 660.87,277.70 661.86,277.74 C662.85,277.78 663.84,277.82 664.83,277.87 C665.82,277.91 667.30,277.98 667.80,278.00" fill="none" stroke="#34b679" stroke-width="3.75" stroke-linejoin="round" stroke-linecap="butt"/>
<path d="M91.00,187.86 C91.50,187.85 92.98,187.80 93.97,187.78 C94.96,187.75 95.95,187.73 96.94,187.71 C97.93,187.69 98.92,187.67 99.91,187.65 C100.90,187.64 101.89,187.62 102.88,187.61 C103.87,187.60 104.86,187.58 105.85,187.58 C106.84,187.57 107.83,187.56 108.82,187.55 C109.81,187.55 110.80,187.55 111.79,187.55 C112.78,187.54 113.77,187.55 114.76,187.55 C115.75,187.55 116.74,187.56 117.73,187.56 C118.72,187.57 119.71,187.58 120.70,187.59 C121.69,187.60 122.68,187.62 123.67,187.63 C124.66,187.65 125.65,187.67 126.64,187.69 C127.63,187.71 128.62,187.73 129.61,187.75 C130.60,187.78 131.59,187.80 132.58,187.83 C133.57,187.86 134.56,187.89 135.55,187.92 C136.54,187.96 137.53,187.99 138.52,188.03 C139.51,188.07 140.50,188.10 141.49,188.15 C142.48,188.19 143.47,188.23 144.46,188.28 C145.45,188.32 146.44,188.37 147.43,188.42 C148.42,188.47 149.41,188.52 150.40,188.58 C151.39,188.63 152.38,188.69 153.38,188.75 C154.37,188.81 155.36,188.87 156.35,188.94 C157.34,189.00 158.33,189.07 159.32,189.13 C160.31,189.20 161.30,189.27 162.29,189.35 C163.28,189.42 164.27,189.49 165.26,189.57 C166.25,189.65 167.24,189.73 168.23,189.81 C169.22,189.89 170.21,189.98 171.20,190.07 C172.19,190.15 173.18,190.24 174.17,190.33 C175.16,190.43 176.15,190.52 177.14,190.62 C178.13,190.71 179.12,190.81 180.11,190.91 C181.10,191.02 182.09,191.12 183.08,191.23 C184.07,191.33 185.06,191.44 186.05,191.55 C187.04,191.66 188.03,191.78 189.02,191.89 C190.01,192.01 191.00,192.13 191.99,192.25 C192.98,192.37 193.97,192.49 194.96,192.62 C195.95,192.74 196.94,192.87 197.93,193.00 C198.92,193.13 199.91,193.27 200.90,193.40 C201.89,193.54 202.88,193.68 203.87,193.82 C204.86,193.96 205.85,194.10 206.84,194.25 C207.83,194.39 208.82,194.54 209.81,194.69 C210.80,194.84 211.79,195.00 212.78,195.15 C213.77,195.31 214.76,195.47 215.75,195.63 C216.74,195.79 217.73,195.96 218.72,196.12 C219.71,196.29 220.70,196.46 221.69,196.63 C222.68,196.80 223.67,196.98 224.66,197.16 C225.65,197.33 226.64,197.51 227.63,197.69 C228.62,197.88 229.61,198.06 230.60,198.25 C231.59,198.44 232.58,198.63 233.57,198.82 C234.56,199.02 235.55,199.21 236.54,199.41 C237.53,199.61 238.52,199.81 239.51,200.01 C240.50,200.22 241.49,200.43 242.48,200.63 C243.47,200.84 244.46,201.06 245.45,201.27 C246.44,201.49 247.43,201.70 248.42,201.93 C249.41,202.15 250.40,202.37 251.39,202.60 C252.38,202.82 253.37,203.05 254.36,203.28 C255.35,203.51 256.34,203.75 257.33,203.99 C258.32,204.22 259.31,204.46 260.30,204.71 C261.29,204.95 262.28,205.20 263.27,205.44 C264.26,205.69 265.25,205.94 266.24,206.20 C267.23,206.45 268.22,206.71 269.21,206.97 C270.20,207.23 271.19,207.49 272.18,207.76 C273.17,208.03 274.16,208.30 275.15,208.57 C276.14,208.84 277.13,209.11 278.12,209.39 C279.12,209.67 280.11,209.95 281.10,210.23 C282.09,210.52 283.08,210.80 284.07,211.09 C285.06,211.38 286.05,211.68 287.04,211.97 C288.03,212.27 289.02,212.56 290.01,212.87 C291.00,213.17 291.99,213.47 292.98,213.78 C293.97,214.09 294.96,214.40 295.95,214.71 C296.94,215.02 297.93,215.34 298.92,215.66 C299.91,215.98 300.90,216.30 301.89,216.63 C302.88,216.95 303.87,217.28 304.86,217.61 C305.85,217.95 306.84,218.28 307.83,218.62 C308.82,218.96 309.81,219.30 310.80,219.64 C311.79,219.99 312.78,220.33 313.77,220.68 C314.76,221.04 315.75,221.39 316.74,221.75 C317.73,222.10 318.72,222.46 319.71,222.83 C320.70,223.19 321.69,223.55 322.68,223.92 C323.67,224.29 324.66,224.67 325.65,225.04 C326.64,225.42 327.63,225.80 328.62,226.18 C329.61,226.56 330.60,226.95 331.59,227.33 C332.58,227.72 333.57,228.11 334.56,228.51 C335.55,228.90 336.54,229.30 337.53,229.70 C338.52,230.11 339.15,230.54 340.50,230.92 C341.85,231.30 344.47,231.50 345.60,232.00 C346.73,232.50 346.78,233.23 347.30,233.90 C347.82,234.57 347.87,235.32 348.70,236.00 C349.53,236.68 351.23,237.35 352.30,238.00 C353.37,238.65 354.03,239.07 355.10,239.90 C356.17,240.73 357.72,242.20 358.70,243.00 C359.68,243.80 360.08,244.07 361.00,244.70 C361.92,245.33 363.18,246.18 364.20,246.80 C365.22,247.42 365.97,247.87 367.10,248.40 C368.23,248.93 369.68,249.48 371.00,250.00 C372.32,250.52 373.63,251.00 375.00,251.50 C376.37,252.00 377.32,252.37 379.20,253.00 C381.08,253.63 384.30,254.67 386.30,255.30 C388.30,255.93 388.37,256.03 391.20,256.80 C394.03,257.57 399.33,258.98 403.30,259.90 C407.27,260.82 412.22,261.70 415.00,262.30 C417.78,262.90 416.48,262.80 420.00,263.50 C423.52,264.20 432.92,265.92 436.10,266.48 C439.28,267.05 438.08,266.75 439.07,266.89 C440.06,267.02 441.05,267.15 442.04,267.27 C443.03,267.40 444.02,267.53 445.01,267.65 C446.00,267.78 446.99,267.90 447.98,268.02 C448.97,268.14 449.96,268.26 450.95,268.38 C451.94,268.50 452.93,268.61 453.92,268.73 C454.91,268.84 455.90,268.95 456.89,269.06 C457.88,269.17 458.87,269.28 459.86,269.39 C460.85,269.50 461.84,269.60 462.83,269.71 C463.82,269.81 464.81,269.91 465.81,270.01 C466.80,270.11 467.79,270.21 468.78,270.31 C469.77,270.41 470.76,270.51 471.75,270.60 C472.74,270.69 473.73,270.79 474.72,270.88 C475.71,270.97 476.70,271.06 477.69,271.15 C478.68,271.24 479.67,271.33 480.66,271.41 C481.65,271.50 482.64,271.58 483.63,271.67 C484.62,271.75 485.61,271.83 486.60,271.91 C487.59,271.99 488.58,272.07 489.57,272.15 C490.56,272.22 491.55,272.30 492.54,272.38 C493.53,272.45 494.52,272.52 495.51,272.60 C496.50,272.67 497.49,272.74 498.48,272.81 C499.47,272.88 500.46,272.95 501.45,273.01 C502.44,273.08 503.43,273.15 504.42,273.21 C505.41,273.28 506.40,273.34 507.39,273.40 C508.38,273.47 509.37,273.53 510.36,273.59 C511.35,273.65 512.34,273.71 513.33,273.77 C514.32,273.82 515.31,273.88 516.30,273.94 C517.29,273.99 518.28,274.05 519.27,274.10 C520.26,274.15 521.25,274.21 522.24,274.26 C523.24,274.31 524.23,274.36 525.22,274.41 C526.21,274.46 527.20,274.51 528.19,274.56 C529.18,274.60 530.17,274.65 531.16,274.70 C532.15,274.74 533.14,274.79 534.13,274.83 C535.12,274.88 536.11,274.92 537.10,274.96 C538.09,275.00 539.08,275.05 540.07,275.09 C541.06,275.13 542.05,275.17 543.04,275.21 C544.03,275.24 545.02,275.28 546.01,275.32 C547.00,275.36 547.99,275.39 548.98,275.43 C549.97,275.47 550.96,275.50 551.95,275.54 C552.94,275.57 553.93,275.60 554.92,275.64 C555.91,275.67 556.90,275.70 557.89,275.73 C558.88,275.77 559.87,275.80 560.86,275.83 C561.85,275.86 562.84,275.89 563.83,275.92 C564.82,275.95 565.81,275.97 566.80,276.00 C567.79,276.03 568.78,276.06 569.77,276.09 C570.76,276.11 571.75,276.14 572.74,276.17 C573.73,276.19 574.72,276.22 575.71,276.24 C576.70,276.27 577.69,276.29 578.68,276.31 C579.67,276.34 580.66,276.36 581.66,276.39 C582.65,276.41 583.64,276.43 584.63,276.45 C585.62,276.48 586.61,276.50 587.60,276.52 C588.59,276.54 589.58,276.56 590.57,276.58 C591.56,276.61 592.55,276.63 593.54,276.65 C594.53,276.67 595.52,276.69 596.51,276.71 C597.50,276.73 598.49,276.75 599.48,276.77 C600.47,276.78 601.46,276.80 602.45,276.82 C603.44,276.84 604.43,276.86 605.42,276.88 C606.41,276.90 607.40,276.92 608.39,276.93 C609.38,276.95 610.37,276.97 611.36,276.99 C612.35,277.01 613.34,277.02 614.33,277.04 C615.32,277.06 616.31,277.08 617.30,277.09 C618.29,277.11 619.28,277.13 620.27,277.15 C621.26,277.16 622.25,277.18 623.24,277.20 C624.23,277.22 625.22,277.23 626.21,277.25 C627.20,277.27 628.19,277.29 629.18,277.31 C630.17,277.32 631.16,277.34 632.15,277.36 C633.14,277.38 634.13,277.39 635.12,277.41 C636.11,277.43 637.10,277.45 638.09,277.47 C639.09,277.48 640.08,277.50 641.07,277.52 C642.06,277.54 643.05,277.56 644.04,277.58 C645.03,277.60 646.02,277.62 647.01,277.64 C648.00,277.66 648.99,277.68 649.98,277.70 C650.97,277.72 651.96,277.74 652.95,277.76 C653.94,277.78 654.93,277.80 655.92,277.82 C656.91,277.84 657.90,277.86 658.89,277.88 C659.88,277.91 660.87,277.93 661.86,277.95 C662.85,277.97 663.84,278.00 664.83,278.02 C665.82,278.04 667.30,278.08 667.80,278.09" fill="none" stroke="#7ad151" stroke-width="3.75" stroke-linejoin="round" stroke-linecap="butt"/>
<line x1="91.20" y1="28.35" x2="667.80" y2="28.35" stroke="#2f6b8e" stroke-opacity="0.5" stroke-width="2.75" stroke-dasharray="2.7 4.5" stroke-dashoffset="4.00"/>
<line x1="91.20" y1="61.50" x2="667.80" y2="61.50" stroke="#25848e" stroke-opacity="0.5" stroke-width="2.75" stroke-dasharray="2.7 4.5" stroke-dashoffset="4.00"/>
<line x1="91.20" y1="101.60" x2="667.80" y2="101.60" stroke="#1f9e89" stroke-opacity="0.5" stroke-width="2.75" stroke-dasharray="2.7 4.5" stroke-dashoffset="3.05"/>
<line x1="91.20" y1="141.60" x2="667.80" y2="141.60" stroke="#34b679" stroke-opacity="0.5" stroke-width="2.75" stroke-dasharray="2.7 4.5" stroke-dashoffset="0.90"/>
<line x1="91.20" y1="186.40" x2="667.80" y2="186.40" stroke="#7ad151" stroke-opacity="0.5" stroke-width="2.75" stroke-dasharray="2.7 4.5" stroke-dashoffset="0.90"/>
</g>
<rect x="91.20" y="15.60" width="576.60" height="275.70" fill="none" stroke="#000" stroke-width="1.60"/>
<line x1="85.00" y1="279.20" x2="91.20" y2="279.20" stroke="#000" stroke-width="1.60"/>
<line x1="85.00" y1="156.10" x2="91.20" y2="156.10" stroke="#000" stroke-width="1.60"/>
<line x1="85.00" y1="33.10" x2="91.20" y2="33.10" stroke="#000" stroke-width="1.60"/>
<line x1="264.20" y1="291.30" x2="264.20" y2="297.50" stroke="#000" stroke-width="1.60"/>
<line x1="494.70" y1="291.30" x2="494.70" y2="297.50" stroke="#000" stroke-width="1.60"/>
<rect x="523.70" y="43.20" width="115.00" height="165.70" fill="#fff" stroke="none"/>
<g clip-path="url(#inclip)">
<path d="M522.74,75.05 C524.49,75.05 531.40,75.05 533.23,75.05 C535.06,75.05 533.56,75.05 533.72,75.05 C533.89,75.06 534.05,75.06 534.21,75.06 C534.38,75.06 534.54,75.06 534.71,75.06 C534.87,75.06 535.04,75.06 535.20,75.07 C535.36,75.07 535.53,75.07 535.69,75.07 C535.86,75.07 536.02,75.07 536.19,75.07 C536.35,75.08 536.51,75.08 536.68,75.08 C536.84,75.08 537.01,75.08 537.17,75.09 C537.34,75.09 537.50,75.09 537.66,75.09 C537.83,75.09 537.99,75.10 538.16,75.10 C538.32,75.10 538.48,75.10 538.65,75.11 C538.81,75.11 538.98,75.11 539.14,75.11 C539.31,75.12 539.47,75.12 539.63,75.12 C539.80,75.13 539.96,75.13 540.13,75.13 C540.29,75.14 540.46,75.14 540.62,75.14 C540.78,75.15 540.95,75.15 541.11,75.16 C541.28,75.16 541.44,75.16 541.61,75.17 C541.77,75.17 541.93,75.18 542.10,75.18 C542.26,75.19 542.43,75.20 542.59,75.20 C542.76,75.21 542.92,75.21 543.08,75.22 C543.25,75.23 543.41,75.23 543.58,75.24 C543.74,75.25 543.90,75.25 544.07,75.26 C544.23,75.27 544.40,75.27 544.56,75.28 C544.73,75.29 544.89,75.30 545.05,75.31 C545.22,75.32 545.38,75.32 545.55,75.33 C545.71,75.34 545.88,75.35 546.04,75.36 C546.20,75.37 546.37,75.38 546.53,75.39 C546.70,75.40 546.86,75.42 547.03,75.43 C547.19,75.44 547.35,75.45 547.52,75.46 C547.68,75.47 547.85,75.49 548.01,75.50 C548.17,75.51 548.34,75.53 548.50,75.54 C548.67,75.55 548.83,75.57 549.00,75.58 C549.16,75.60 549.32,75.61 549.49,75.63 C549.65,75.65 549.82,75.66 549.98,75.68 C550.15,75.69 550.31,75.71 550.47,75.73 C550.64,75.75 550.80,75.77 550.97,75.78 C551.13,75.80 551.30,75.82 551.46,75.84 C551.62,75.86 551.79,75.88 551.95,75.90 C552.12,75.92 552.28,75.94 552.44,75.97 C552.61,75.99 552.77,76.01 552.94,76.03 C553.10,76.06 553.27,76.08 553.43,76.10 C553.59,76.13 553.76,76.15 553.92,76.18 C554.09,76.20 554.25,76.23 554.42,76.26 C554.58,76.28 554.74,76.31 554.91,76.34 C555.07,76.37 555.24,76.40 555.40,76.42 C555.57,76.45 555.73,76.48 555.89,76.51 C556.06,76.55 556.22,76.58 556.39,76.61 C556.55,76.64 556.72,76.67 556.88,76.71 C557.04,76.74 557.21,76.78 557.37,76.81 C557.54,76.85 557.70,76.88 557.86,76.92 C558.03,76.96 558.19,76.99 558.36,77.03 C558.52,77.07 558.69,77.11 558.85,77.15 C559.01,77.19 559.18,77.23 559.34,77.27 C559.51,77.31 559.67,77.35 559.84,77.40 C560.00,77.44 560.16,77.49 560.33,77.53 C560.49,77.58 560.66,77.62 560.82,77.67 C560.99,77.72 561.15,77.76 561.31,77.81 C561.48,77.86 561.64,77.91 561.81,77.96 C561.97,78.01 562.13,78.07 562.30,78.12 C562.46,78.17 562.63,78.23 562.79,78.28 C562.96,78.34 563.12,78.39 563.28,78.45 C563.45,78.51 563.61,78.56 563.78,78.62 C563.94,78.68 564.11,78.74 564.27,78.80 C564.43,78.87 564.60,78.93 564.76,78.99 C564.93,79.06 565.09,79.12 565.26,79.19 C565.42,79.25 565.58,79.32 565.75,79.39 C565.91,79.46 566.07,79.52 566.24,79.60 C566.41,79.69 566.66,79.74 566.79,79.90 C566.92,80.06 566.92,80.34 567.01,80.55 C567.09,80.76 567.16,80.95 567.31,81.18 C567.45,81.41 567.73,81.70 567.87,81.93 C568.01,82.15 568.08,82.29 568.17,82.52 C568.26,82.75 568.35,83.05 568.44,83.31 C568.52,83.56 568.60,83.74 568.70,84.03 C568.80,84.31 568.89,84.59 569.05,84.99 C569.21,85.38 569.50,86.01 569.68,86.41 C569.87,86.80 570.01,87.04 570.18,87.36 C570.34,87.68 570.51,88.00 570.67,88.32 C570.84,88.64 571.00,88.96 571.17,89.28 C571.34,89.61 571.50,89.93 571.67,90.25 C571.83,90.57 572.00,90.90 572.16,91.22 C572.33,91.54 572.49,91.87 572.66,92.19 C572.82,92.52 572.99,92.84 573.15,93.17 C573.32,93.49 573.48,93.82 573.65,94.14 C573.81,94.47 573.98,94.79 574.14,95.12 C574.31,95.44 574.47,95.77 574.64,96.10 C574.80,96.42 574.97,96.75 575.13,97.08 C575.30,97.40 575.47,97.73 575.63,98.06 C575.80,98.38 575.96,98.71 576.13,99.04 C576.29,99.36 576.46,99.69 576.62,100.01 C576.79,100.34 576.95,100.67 577.12,100.99 C577.28,101.32 577.30,101.43 577.61,101.97 C577.93,102.51 578.27,103.09 579.00,104.21 C579.73,105.34 581.00,107.16 582.00,108.70 C583.00,110.24 584.00,111.82 585.00,113.46 C586.00,115.10 587.00,116.78 588.00,118.54 C589.00,120.29 590.00,122.12 591.00,123.98 C592.00,125.84 593.00,127.75 594.00,129.69 C595.00,131.63 596.00,133.60 597.00,135.61 C598.00,137.62 599.00,139.61 600.00,141.78 C601.00,143.95 602.00,146.47 603.00,148.63 C604.00,150.79 605.00,152.72 606.00,154.72 C607.00,156.72 608.00,158.65 609.00,160.62 C610.00,162.59 611.00,164.55 612.00,166.52 C613.00,168.48 614.00,170.45 615.00,172.42 C616.00,174.38 617.00,176.38 618.00,178.32 C619.00,180.26 620.00,182.15 621.00,184.07 C622.00,185.98 623.00,187.88 624.00,189.78 C625.00,191.69 626.00,193.60 627.00,195.50 C628.00,197.41 629.00,199.31 630.00,201.22 C631.00,203.13 632.00,205.02 633.00,206.94 C634.00,208.86 635.00,210.80 636.00,212.74 C637.00,214.68 638.00,216.62 639.00,218.55 C640.00,220.49 641.00,222.43 642.00,224.37 C643.00,226.31 644.50,229.22 645.00,230.18" fill="none" stroke="#2f6b8e" stroke-width="3.75" stroke-linejoin="round"/>
<path d="M522.74,68.49 C524.49,68.49 531.40,68.49 533.23,68.49 C535.06,68.50 533.56,68.52 533.73,68.53 C533.89,68.54 534.06,68.55 534.22,68.56 C534.39,68.57 534.56,68.59 534.72,68.60 C534.89,68.61 535.05,68.62 535.22,68.63 C535.39,68.64 535.55,68.65 535.72,68.65 C535.88,68.66 536.05,68.67 536.21,68.68 C536.38,68.69 536.55,68.70 536.71,68.71 C536.88,68.72 537.04,68.72 537.21,68.73 C537.38,68.74 537.54,68.75 537.71,68.76 C537.87,68.76 538.04,68.77 538.20,68.78 C538.37,68.79 538.54,68.80 538.70,68.80 C538.87,68.81 539.03,68.82 539.20,68.83 C539.37,68.83 539.53,68.84 539.70,68.85 C539.86,68.86 540.03,68.86 540.19,68.87 C540.36,68.88 540.53,68.89 540.69,68.89 C540.86,68.90 541.02,68.91 541.19,68.92 C541.36,68.92 541.52,68.93 541.69,68.94 C541.85,68.95 542.02,68.96 542.18,68.96 C542.35,68.97 542.52,68.98 542.68,68.99 C542.85,69.00 543.01,69.01 543.18,69.01 C543.35,69.02 543.51,69.03 543.68,69.04 C543.84,69.05 544.01,69.06 544.17,69.07 C544.34,69.08 544.51,69.09 544.67,69.10 C544.84,69.11 545.00,69.12 545.17,69.13 C545.34,69.14 545.50,69.15 545.67,69.17 C545.83,69.18 546.00,69.19 546.17,69.20 C546.33,69.21 546.50,69.23 546.66,69.24 C546.83,69.25 546.99,69.27 547.16,69.28 C547.33,69.29 547.49,69.31 547.66,69.32 C547.82,69.34 547.99,69.35 548.16,69.37 C548.32,69.39 548.49,69.40 548.65,69.42 C548.82,69.44 548.98,69.45 549.15,69.47 C549.32,69.49 549.48,69.51 549.65,69.53 C549.81,69.55 549.98,69.57 550.15,69.59 C550.31,69.61 550.48,69.63 550.64,69.65 C550.81,69.67 550.97,69.70 551.14,69.72 C551.31,69.74 551.47,69.77 551.64,69.79 C551.80,69.81 551.97,69.84 552.14,69.87 C552.30,69.89 552.47,69.92 552.63,69.95 C552.80,69.97 552.96,70.00 553.13,70.03 C553.30,70.06 553.46,70.09 553.63,70.12 C553.79,70.15 553.96,70.19 554.13,70.22 C554.29,70.25 554.46,70.29 554.62,70.32 C554.79,70.36 554.95,70.39 555.12,70.43 C555.29,70.46 555.45,70.50 555.62,70.54 C555.78,70.58 555.95,70.62 556.12,70.66 C556.28,70.70 556.45,70.74 556.61,70.79 C556.78,70.83 556.94,70.87 557.11,70.92 C557.28,70.97 557.44,71.01 557.61,71.06 C557.77,71.11 557.94,71.16 558.11,71.21 C558.27,71.26 558.44,71.31 558.60,71.36 C558.77,71.41 558.93,71.47 559.10,71.52 C559.27,71.58 559.43,71.64 559.60,71.70 C559.76,71.75 559.93,71.81 560.10,71.88 C560.26,71.94 560.43,72.00 560.59,72.06 C560.76,72.13 560.93,72.19 561.09,72.26 C561.26,72.33 561.42,72.40 561.59,72.47 C561.75,72.54 561.92,72.61 562.09,72.69 C562.25,72.76 562.42,72.84 562.58,72.91 C562.75,72.99 562.92,73.07 563.08,73.15 C563.25,73.23 563.41,73.32 563.58,73.40 C563.74,73.49 563.91,73.57 564.08,73.66 C564.24,73.75 564.41,73.84 564.57,73.93 C564.74,74.03 564.91,74.12 565.07,74.22 C565.24,74.32 565.40,74.42 565.57,74.52 C565.73,74.62 565.90,74.73 566.07,74.83 C566.23,74.94 566.40,75.05 566.56,75.16 C566.73,75.27 566.90,75.38 567.06,75.50 C567.23,75.62 567.39,75.74 567.56,75.86 C567.72,75.98 567.89,76.10 568.06,76.23 C568.22,76.36 568.39,76.49 568.55,76.62 C568.72,76.75 568.76,76.77 569.05,77.03 C569.34,77.29 570.06,77.90 570.30,78.20 C570.54,78.50 570.42,78.57 570.48,78.84 C570.55,79.12 570.63,79.54 570.70,79.84 C570.76,80.13 570.75,80.29 570.86,80.60 C570.98,80.91 571.24,81.33 571.38,81.72 C571.52,82.11 571.63,82.53 571.73,82.94 C571.82,83.36 571.86,83.73 571.95,84.19 C572.03,84.65 572.12,85.16 572.26,85.70 C572.40,86.24 572.62,86.93 572.79,87.44 C572.97,87.95 573.13,88.32 573.29,88.75 C573.46,89.18 573.62,89.61 573.79,90.03 C573.96,90.45 574.12,90.87 574.29,91.29 C574.46,91.70 574.62,92.11 574.79,92.51 C574.95,92.92 575.12,93.32 575.29,93.72 C575.45,94.11 575.62,94.51 575.79,94.90 C575.95,95.29 576.12,95.67 576.28,96.05 C576.45,96.44 576.62,96.82 576.78,97.19 C576.95,97.57 577.12,97.94 577.28,98.31 C577.45,98.69 577.49,98.85 577.78,99.42 C578.07,100.00 578.30,100.46 579.00,101.76 C579.70,103.05 581.00,105.37 582.00,107.18 C583.00,109.00 584.00,110.82 585.00,112.66 C586.00,114.51 587.00,116.36 588.00,118.25 C589.00,120.14 590.00,122.07 591.00,124.01 C592.00,125.95 593.00,127.91 594.00,129.87 C595.00,131.84 596.00,133.81 597.00,135.79 C598.00,137.77 599.00,139.64 600.00,141.78 C601.00,143.92 602.00,146.47 603.00,148.63 C604.00,150.79 605.00,152.72 606.00,154.72 C607.00,156.72 608.00,158.65 609.00,160.62 C610.00,162.59 611.00,164.55 612.00,166.52 C613.00,168.48 614.00,170.45 615.00,172.42 C616.00,174.38 617.00,176.38 618.00,178.32 C619.00,180.26 620.00,182.15 621.00,184.07 C622.00,185.98 623.00,187.88 624.00,189.78 C625.00,191.69 626.00,193.60 627.00,195.50 C628.00,197.41 629.00,199.31 630.00,201.22 C631.00,203.13 632.00,205.02 633.00,206.94 C634.00,208.86 635.00,210.80 636.00,212.74 C637.00,214.68 638.00,216.62 639.00,218.55 C640.00,220.49 641.00,222.43 642.00,224.37 C643.00,226.31 644.50,229.22 645.00,230.18" fill="none" stroke="#25848e" stroke-width="3.75" stroke-linejoin="round"/>
<path d="M522.74,64.10 C524.49,64.10 531.40,64.10 533.23,64.10 C535.06,64.10 533.56,64.10 533.73,64.10 C533.89,64.10 534.06,64.10 534.22,64.10 C534.39,64.10 534.55,64.09 534.72,64.10 C534.89,64.10 535.05,64.10 535.22,64.10 C535.38,64.10 535.55,64.10 535.71,64.10 C535.88,64.10 536.04,64.10 536.21,64.10 C536.38,64.11 536.54,64.11 536.71,64.11 C536.87,64.11 537.04,64.12 537.20,64.12 C537.37,64.12 537.53,64.13 537.70,64.13 C537.87,64.14 538.03,64.14 538.20,64.14 C538.36,64.15 538.53,64.15 538.69,64.16 C538.86,64.17 539.03,64.17 539.19,64.18 C539.36,64.18 539.52,64.19 539.69,64.20 C539.85,64.21 540.02,64.21 540.18,64.22 C540.35,64.23 540.52,64.24 540.68,64.25 C540.85,64.26 541.01,64.27 541.18,64.28 C541.34,64.29 541.51,64.30 541.68,64.31 C541.84,64.32 542.01,64.33 542.17,64.34 C542.34,64.35 542.50,64.37 542.67,64.38 C542.83,64.39 543.00,64.41 543.17,64.42 C543.33,64.43 543.50,64.45 543.66,64.46 C543.83,64.48 543.99,64.49 544.16,64.51 C544.32,64.53 544.49,64.54 544.66,64.56 C544.82,64.58 544.99,64.60 545.15,64.62 C545.32,64.63 545.48,64.65 545.65,64.67 C545.82,64.69 545.98,64.71 546.15,64.74 C546.31,64.76 546.48,64.78 546.64,64.80 C546.81,64.82 546.97,64.85 547.14,64.87 C547.31,64.90 547.47,64.92 547.64,64.94 C547.80,64.97 547.97,65.00 548.13,65.02 C548.30,65.05 548.46,65.08 548.63,65.11 C548.80,65.13 548.96,65.16 549.13,65.19 C549.29,65.22 549.46,65.25 549.62,65.28 C549.79,65.31 549.96,65.35 550.12,65.38 C550.29,65.41 550.45,65.45 550.62,65.48 C550.78,65.52 550.95,65.55 551.11,65.59 C551.28,65.62 551.45,65.66 551.61,65.70 C551.78,65.74 551.94,65.77 552.11,65.81 C552.27,65.85 552.44,65.89 552.60,65.94 C552.77,65.98 552.94,66.02 553.10,66.06 C553.27,66.11 553.43,66.15 553.60,66.20 C553.76,66.24 553.93,66.29 554.10,66.34 C554.26,66.38 554.43,66.43 554.59,66.48 C554.76,66.53 554.92,66.58 555.09,66.63 C555.25,66.68 555.42,66.74 555.59,66.79 C555.75,66.84 555.92,66.90 556.08,66.95 C556.25,67.01 556.41,67.07 556.58,67.13 C556.74,67.18 556.91,67.24 557.08,67.30 C557.24,67.36 557.41,67.43 557.57,67.49 C557.74,67.55 557.90,67.62 558.07,67.68 C558.24,67.75 558.40,67.81 558.57,67.88 C558.73,67.95 558.90,68.02 559.06,68.09 C559.23,68.16 559.39,68.23 559.56,68.31 C559.73,68.38 559.89,68.46 560.06,68.53 C560.22,68.61 560.39,68.69 560.55,68.77 C560.72,68.84 560.89,68.93 561.05,69.01 C561.22,69.09 561.38,69.17 561.55,69.26 C561.71,69.35 561.88,69.43 562.04,69.52 C562.21,69.61 562.38,69.70 562.54,69.79 C562.71,69.88 562.87,69.98 563.04,70.07 C563.20,70.17 563.37,70.27 563.53,70.37 C563.70,70.46 563.87,70.56 564.03,70.67 C564.20,70.77 564.36,70.88 564.53,70.98 C564.69,71.09 564.86,71.20 565.03,71.31 C565.19,71.42 565.36,71.53 565.52,71.65 C565.69,71.76 565.85,71.88 566.02,72.00 C566.18,72.12 566.35,72.24 566.52,72.36 C566.68,72.48 566.85,72.61 567.01,72.74 C567.18,72.87 567.34,73.00 567.51,73.13 C567.67,73.26 567.84,73.40 568.01,73.54 C568.17,73.67 568.34,73.81 568.50,73.96 C568.67,74.10 568.83,74.25 569.00,74.39 C569.17,74.54 569.33,74.69 569.50,74.85 C569.66,75.00 569.83,75.16 569.99,75.32 C570.16,75.48 570.32,75.65 570.49,75.81 C570.66,75.98 570.82,76.15 570.99,76.32 C571.15,76.50 571.32,76.67 571.48,76.85 C571.65,77.03 571.81,77.22 571.98,77.40 C572.15,77.59 572.35,77.79 572.48,77.98 C572.60,78.16 572.67,78.27 572.74,78.50 C572.82,78.74 572.88,79.00 572.94,79.37 C573.01,79.74 573.02,80.32 573.13,80.75 C573.23,81.17 573.39,81.48 573.56,81.90 C573.72,82.31 573.95,82.68 574.11,83.22 C574.27,83.76 574.37,84.48 574.51,85.13 C574.64,85.78 574.73,86.23 574.94,87.12 C575.15,88.00 575.45,89.25 575.77,90.45 C576.09,91.66 576.56,93.30 576.88,94.32 C577.21,95.35 577.36,95.62 577.72,96.60 C578.07,97.58 578.29,98.40 579.00,100.19 C579.71,101.97 581.00,105.21 582.00,107.30 C583.00,109.39 584.00,110.97 585.00,112.73 C586.00,114.49 587.00,116.05 588.00,117.85 C589.00,119.65 590.00,121.59 591.00,123.52 C592.00,125.45 593.00,127.43 594.00,129.43 C595.00,131.43 596.00,133.46 597.00,135.52 C598.00,137.58 599.00,139.59 600.00,141.78 C601.00,143.96 602.00,146.47 603.00,148.63 C604.00,150.79 605.00,152.72 606.00,154.72 C607.00,156.72 608.00,158.65 609.00,160.62 C610.00,162.59 611.00,164.55 612.00,166.52 C613.00,168.48 614.00,170.45 615.00,172.42 C616.00,174.38 617.00,176.38 618.00,178.32 C619.00,180.26 620.00,182.15 621.00,184.07 C622.00,185.98 623.00,187.88 624.00,189.78 C625.00,191.69 626.00,193.60 627.00,195.50 C628.00,197.41 629.00,199.31 630.00,201.22 C631.00,203.13 632.00,205.02 633.00,206.94 C634.00,208.86 635.00,210.80 636.00,212.74 C637.00,214.68 638.00,216.62 639.00,218.55 C640.00,220.49 641.00,222.43 642.00,224.37 C643.00,226.31 644.50,229.22 645.00,230.18" fill="none" stroke="#1f9e89" stroke-width="3.75" stroke-linejoin="round"/>
<path d="M522.74,61.17 C524.49,61.17 531.40,61.17 533.23,61.17 C535.06,61.18 533.56,61.18 533.72,61.19 C533.89,61.19 534.06,61.19 534.22,61.20 C534.39,61.20 534.55,61.21 534.72,61.21 C534.88,61.22 535.05,61.22 535.21,61.23 C535.38,61.24 535.54,61.24 535.71,61.25 C535.87,61.25 536.04,61.26 536.20,61.27 C536.37,61.27 536.53,61.28 536.70,61.29 C536.86,61.29 537.03,61.30 537.19,61.31 C537.36,61.32 537.52,61.33 537.69,61.33 C537.85,61.34 538.02,61.35 538.19,61.36 C538.35,61.37 538.52,61.38 538.68,61.39 C538.85,61.40 539.01,61.41 539.18,61.42 C539.34,61.43 539.51,61.44 539.67,61.45 C539.84,61.47 540.00,61.48 540.17,61.49 C540.33,61.50 540.50,61.51 540.66,61.53 C540.83,61.54 540.99,61.55 541.16,61.57 C541.32,61.58 541.49,61.60 541.65,61.61 C541.82,61.63 541.98,61.64 542.15,61.66 C542.32,61.67 542.48,61.69 542.65,61.71 C542.81,61.73 542.98,61.74 543.14,61.76 C543.31,61.78 543.47,61.80 543.64,61.82 C543.80,61.84 543.97,61.86 544.13,61.88 C544.30,61.90 544.46,61.92 544.63,61.94 C544.79,61.96 544.96,61.98 545.12,62.00 C545.29,62.03 545.45,62.05 545.62,62.07 C545.78,62.10 545.95,62.12 546.11,62.15 C546.28,62.17 546.44,62.20 546.61,62.23 C546.78,62.25 546.94,62.28 547.11,62.31 C547.27,62.34 547.44,62.36 547.60,62.39 C547.77,62.42 547.93,62.45 548.10,62.48 C548.26,62.52 548.43,62.55 548.59,62.58 C548.76,62.61 548.92,62.65 549.09,62.68 C549.25,62.71 549.42,62.75 549.58,62.78 C549.75,62.82 549.91,62.86 550.08,62.89 C550.24,62.93 550.41,62.97 550.57,63.01 C550.74,63.05 550.91,63.09 551.07,63.13 C551.24,63.17 551.40,63.21 551.57,63.25 C551.73,63.29 551.90,63.34 552.06,63.38 C552.23,63.43 552.39,63.47 552.56,63.52 C552.72,63.57 552.89,63.61 553.05,63.66 C553.22,63.71 553.38,63.76 553.55,63.81 C553.71,63.86 553.88,63.91 554.04,63.97 C554.21,64.02 554.37,64.07 554.54,64.13 C554.70,64.18 554.87,64.24 555.04,64.30 C555.20,64.35 555.37,64.41 555.53,64.47 C555.70,64.53 555.86,64.59 556.03,64.65 C556.19,64.72 556.36,64.78 556.52,64.84 C556.69,64.91 556.85,64.97 557.02,65.04 C557.18,65.11 557.35,65.18 557.51,65.25 C557.68,65.32 557.84,65.39 558.01,65.46 C558.17,65.53 558.34,65.61 558.50,65.68 C558.67,65.76 558.83,65.83 559.00,65.91 C559.17,65.99 559.33,66.07 559.50,66.15 C559.66,66.23 559.83,66.32 559.99,66.40 C560.16,66.49 560.32,66.57 560.49,66.66 C560.65,66.75 560.82,66.84 560.98,66.93 C561.15,67.02 561.31,67.11 561.48,67.21 C561.64,67.30 561.81,67.40 561.97,67.50 C562.14,67.59 562.30,67.69 562.47,67.80 C562.63,67.90 562.80,68.00 562.96,68.11 C563.13,68.22 563.30,68.32 563.46,68.43 C563.63,68.54 563.79,68.66 563.96,68.77 C564.12,68.88 564.29,69.00 564.45,69.12 C564.62,69.24 564.78,69.36 564.95,69.48 C565.11,69.61 565.28,69.73 565.44,69.86 C565.61,69.99 565.77,70.12 565.94,70.25 C566.10,70.38 566.27,70.52 566.43,70.66 C566.60,70.80 566.76,70.94 566.93,71.08 C567.09,71.22 567.26,71.37 567.42,71.52 C567.59,71.67 567.76,71.82 567.92,71.97 C568.09,72.13 568.25,72.29 568.42,72.45 C568.58,72.61 568.75,72.77 568.91,72.94 C569.08,73.11 569.24,73.28 569.41,73.46 C569.57,73.63 569.74,73.81 569.90,73.99 C570.07,74.17 570.23,74.36 570.40,74.55 C570.56,74.73 570.73,74.93 570.89,75.12 C571.06,75.32 571.22,75.52 571.39,75.73 C571.55,75.93 571.72,76.14 571.89,76.36 C572.05,76.57 572.22,76.79 572.38,77.01 C572.55,77.24 572.57,77.33 572.88,77.70 C573.18,78.06 573.96,78.83 574.22,79.21 C574.49,79.60 574.39,79.65 574.47,80.00 C574.55,80.36 574.58,80.89 574.71,81.34 C574.83,81.79 575.03,82.25 575.20,82.69 C575.38,83.13 575.59,83.40 575.74,84.00 C575.88,84.60 575.95,85.53 576.07,86.28 C576.19,87.03 576.26,87.78 576.44,88.52 C576.61,89.25 576.91,89.92 577.13,90.68 C577.35,91.44 577.44,91.99 577.75,93.07 C578.06,94.15 578.29,95.33 579.00,97.17 C579.71,99.01 581.00,102.01 582.00,104.13 C583.00,106.24 584.00,108.01 585.00,109.86 C586.00,111.72 587.00,113.23 588.00,115.26 C589.00,117.29 590.00,119.83 591.00,122.06 C592.00,124.28 593.00,126.42 594.00,128.61 C595.00,130.81 596.00,133.01 597.00,135.20 C598.00,137.40 599.00,139.54 600.00,141.78 C601.00,144.01 602.00,146.47 603.00,148.63 C604.00,150.79 605.00,152.72 606.00,154.72 C607.00,156.72 608.00,158.65 609.00,160.62 C610.00,162.59 611.00,164.55 612.00,166.52 C613.00,168.48 614.00,170.45 615.00,172.42 C616.00,174.38 617.00,176.38 618.00,178.32 C619.00,180.26 620.00,182.15 621.00,184.07 C622.00,185.98 623.00,187.88 624.00,189.78 C625.00,191.69 626.00,193.60 627.00,195.50 C628.00,197.41 629.00,199.31 630.00,201.22 C631.00,203.13 632.00,205.02 633.00,206.94 C634.00,208.86 635.00,210.80 636.00,212.74 C637.00,214.68 638.00,216.62 639.00,218.55 C640.00,220.49 641.00,222.43 642.00,224.37 C643.00,226.31 644.50,229.22 645.00,230.18" fill="none" stroke="#34b679" stroke-width="3.75" stroke-linejoin="round"/>
<path d="M522.74,59.36 C524.49,59.36 531.40,59.36 533.23,59.36 C535.06,59.35 533.56,59.34 533.72,59.33 C533.89,59.32 534.05,59.31 534.22,59.30 C534.38,59.30 534.55,59.29 534.71,59.28 C534.88,59.28 535.04,59.27 535.21,59.27 C535.37,59.26 535.53,59.26 535.70,59.26 C535.86,59.25 536.03,59.25 536.19,59.25 C536.36,59.25 536.52,59.25 536.69,59.25 C536.85,59.25 537.02,59.25 537.18,59.25 C537.35,59.25 537.51,59.25 537.67,59.25 C537.84,59.26 538.00,59.26 538.17,59.26 C538.33,59.27 538.50,59.27 538.66,59.28 C538.83,59.28 538.99,59.29 539.16,59.30 C539.32,59.30 539.49,59.31 539.65,59.32 C539.82,59.33 539.98,59.34 540.14,59.35 C540.31,59.36 540.47,59.37 540.64,59.38 C540.80,59.39 540.97,59.40 541.13,59.42 C541.30,59.43 541.46,59.44 541.63,59.46 C541.79,59.47 541.96,59.49 542.12,59.50 C542.29,59.52 542.45,59.54 542.61,59.55 C542.78,59.57 542.94,59.59 543.11,59.61 C543.27,59.63 543.44,59.65 543.60,59.67 C543.77,59.69 543.93,59.71 544.10,59.73 C544.26,59.76 544.43,59.78 544.59,59.81 C544.76,59.83 544.92,59.85 545.08,59.88 C545.25,59.91 545.41,59.93 545.58,59.96 C545.74,59.99 545.91,60.02 546.07,60.05 C546.24,60.08 546.40,60.11 546.57,60.14 C546.73,60.17 546.90,60.20 547.06,60.23 C547.22,60.27 547.39,60.30 547.55,60.34 C547.72,60.37 547.88,60.41 548.05,60.44 C548.21,60.48 548.38,60.52 548.54,60.56 C548.71,60.60 548.87,60.63 549.04,60.68 C549.20,60.72 549.37,60.76 549.53,60.80 C549.69,60.84 549.86,60.89 550.02,60.93 C550.19,60.97 550.35,61.02 550.52,61.07 C550.68,61.11 550.85,61.16 551.01,61.21 C551.18,61.26 551.34,61.31 551.51,61.36 C551.67,61.41 551.84,61.46 552.00,61.51 C552.16,61.57 552.33,61.62 552.49,61.67 C552.66,61.73 552.82,61.79 552.99,61.84 C553.15,61.90 553.32,61.96 553.48,62.02 C553.65,62.08 553.81,62.14 553.98,62.20 C554.14,62.26 554.31,62.32 554.47,62.39 C554.63,62.45 554.80,62.52 554.96,62.58 C555.13,62.65 555.29,62.72 555.46,62.79 C555.62,62.86 555.79,62.93 555.95,63.00 C556.12,63.07 556.28,63.14 556.45,63.22 C556.61,63.29 556.77,63.37 556.94,63.44 C557.10,63.52 557.27,63.60 557.43,63.68 C557.60,63.76 557.76,63.84 557.93,63.92 C558.09,64.00 558.26,64.09 558.42,64.17 C558.59,64.26 558.75,64.34 558.92,64.43 C559.08,64.52 559.24,64.61 559.41,64.70 C559.57,64.79 559.74,64.89 559.90,64.98 C560.07,65.07 560.23,65.17 560.40,65.27 C560.56,65.37 560.73,65.46 560.89,65.57 C561.06,65.67 561.22,65.77 561.39,65.87 C561.55,65.98 561.71,66.08 561.88,66.19 C562.04,66.30 562.21,66.41 562.37,66.52 C562.54,66.63 562.70,66.74 562.87,66.86 C563.03,66.98 563.20,67.09 563.36,67.21 C563.53,67.33 563.69,67.45 563.86,67.57 C564.02,67.70 564.18,67.82 564.35,67.95 C564.51,68.08 564.68,68.21 564.84,68.34 C565.01,68.47 565.17,68.60 565.34,68.74 C565.50,68.87 565.67,69.01 565.83,69.15 C566.00,69.29 566.16,69.44 566.32,69.58 C566.49,69.73 566.65,69.87 566.82,70.02 C566.98,70.17 567.15,70.33 567.31,70.48 C567.48,70.64 567.64,70.80 567.81,70.96 C567.97,71.12 568.14,71.28 568.30,71.45 C568.47,71.61 568.63,71.78 568.79,71.96 C568.96,72.13 569.12,72.30 569.29,72.48 C569.45,72.66 569.62,72.84 569.78,73.03 C569.95,73.21 570.11,73.40 570.28,73.59 C570.44,73.78 570.61,73.98 570.77,74.17 C570.94,74.37 571.10,74.58 571.26,74.78 C571.43,74.99 571.59,75.20 571.76,75.41 C571.92,75.62 572.09,75.84 572.25,76.06 C572.42,76.29 572.58,76.51 572.75,76.74 C572.91,76.97 573.08,77.21 573.24,77.45 C573.41,77.69 573.57,77.93 573.73,78.18 C573.90,78.43 574.06,78.68 574.23,78.94 C574.39,79.20 574.50,79.48 574.72,79.73 C574.95,79.99 575.38,80.12 575.57,80.46 C575.76,80.80 575.77,81.30 575.85,81.77 C575.94,82.24 575.95,82.78 576.09,83.29 C576.22,83.80 576.51,84.30 576.68,84.80 C576.86,85.31 576.97,85.62 577.15,86.31 C577.33,87.00 577.44,87.72 577.75,88.94 C578.06,90.16 578.29,91.59 579.00,93.64 C579.71,95.68 581.00,98.77 582.00,101.20 C583.00,103.64 584.00,105.93 585.00,108.24 C586.00,110.56 587.00,112.81 588.00,115.10 C589.00,117.40 590.00,119.78 591.00,122.00 C592.00,124.23 593.00,126.27 594.00,128.45 C595.00,130.62 596.00,132.83 597.00,135.05 C598.00,137.27 599.00,139.51 600.00,141.78 C601.00,144.04 602.00,146.47 603.00,148.63 C604.00,150.79 605.00,152.72 606.00,154.72 C607.00,156.72 608.00,158.65 609.00,160.62 C610.00,162.59 611.00,164.55 612.00,166.52 C613.00,168.48 614.00,170.45 615.00,172.42 C616.00,174.38 617.00,176.38 618.00,178.32 C619.00,180.26 620.00,182.15 621.00,184.07 C622.00,185.98 623.00,187.88 624.00,189.78 C625.00,191.69 626.00,193.60 627.00,195.50 C628.00,197.41 629.00,199.31 630.00,201.22 C631.00,203.13 632.00,205.02 633.00,206.94 C634.00,208.86 635.00,210.80 636.00,212.74 C637.00,214.68 638.00,216.62 639.00,218.55 C640.00,220.49 641.00,222.43 642.00,224.37 C643.00,226.31 644.50,229.22 645.00,230.18" fill="none" stroke="#7ad151" stroke-width="3.75" stroke-linejoin="round"/>
<line x1="582.5" y1="137.1" x2="614.0" y2="196.6" stroke="#000" stroke-width="3.4" stroke-dasharray="12 6.6"/>
</g>
<rect x="523.70" y="43.20" width="115.00" height="165.70" fill="none" stroke="#000" stroke-width="1.60"/>
<line x1="517.50" y1="72.00" x2="523.70" y2="72.00" stroke="#000" stroke-width="1.60"/>
<line x1="517.50" y1="145.60" x2="523.70" y2="145.60" stroke="#000" stroke-width="1.60"/>
<line x1="523.70" y1="208.90" x2="523.70" y2="215.10" stroke="#000" stroke-width="1.60"/>
<line x1="581.20" y1="208.90" x2="581.20" y2="215.10" stroke="#000" stroke-width="1.60"/>
<line x1="638.70" y1="208.90" x2="638.70" y2="215.10" stroke="#000" stroke-width="1.60"/>
<rect x="703.70" y="15.60" width="13.80" height="275.70" fill="url(#cbg)" stroke="#000" stroke-width="1.60"/>
<line x1="717.50" y1="15.60" x2="723.70" y2="15.60" stroke="#000" stroke-width="1.60"/>
<line x1="717.50" y1="153.45" x2="723.70" y2="153.45" stroke="#000" stroke-width="1.60"/>
<line x1="717.50" y1="291.30" x2="723.70" y2="291.30" stroke="#000" stroke-width="1.60"/>
<text x="39.00" y="45.20" font-size="33.00" style="letter-spacing:-0.70px;">0.4</text>
<text x="39.05" y="167.90" font-size="33.00" style="letter-spacing:-0.50px;">0.2</text>
<text x="39.00" y="291.30" font-size="33.00" style="letter-spacing:-0.60px;">0.0</text>
<text x="233.90" y="327.00" font-size="33.00" style="letter-spacing:-1.60px;">10</text>
<text x="264.80" y="318.80" font-size="29.90" class="ns">−</text>
<text x="281.40" y="315.30" font-size="23.20">1</text>
<text x="473.70" y="327.00" font-size="33.00" style="letter-spacing:-1.60px;">10</text>
<text x="503.70" y="315.10" font-size="23.20">1</text>
<text x="729.70" y="27.10" font-size="33.00" style="letter-spacing:-1.40px;">10</text>
<text x="759.80" y="15.00" font-size="23.20">1</text>
<text x="729.80" y="165.20" font-size="33.00" style="letter-spacing:-1.20px;">10</text>
<text x="760.00" y="153.90" font-size="23.20">0</text>
<text x="729.80" y="303.10" font-size="33.00" style="letter-spacing:-1.60px;">10</text>
<text x="760.50" y="295.00" font-size="30.00" class="ns">−</text>
<text x="777.20" y="290.90" font-size="23.20">1</text>
<text x="462.60" y="81.40" font-size="25.50">10</text>
<text x="487.70" y="75.20" font-size="24.30" class="ns">−</text>
<text x="501.30" y="72.00" font-size="18.50">1</text>
<text x="462.60" y="155.00" font-size="25.50">10</text>
<text x="487.70" y="149.20" font-size="24.30" class="ns">−</text>
<text x="501.40" y="145.10" font-size="18.50">3</text>
<text x="499.00" y="239.20" font-size="25.50">10</text>
<text x="524.30" y="233.50" font-size="24.70" class="ns">−</text>
<text x="537.90" y="230.40" font-size="18.50">3</text>
<text x="563.20" y="239.20" font-size="25.50">10</text>
<text x="589.20" y="230.40" font-size="18.50">0</text>
<text x="621.10" y="239.20" font-size="25.50">10</text>
<text x="646.10" y="230.40" font-size="18.50">3</text>
<text x="341.10" y="364.90" font-size="33.00" style="font-style:italic;stroke:none;">c</text>
<text transform="translate(357.3,372.7) skewX(-4) scale(1,1.49)" x="0" y="0" font-size="33">/</text>
<text x="370.80" y="364.90" font-size="33.00" style="font-style:italic;stroke:none;">c</text>
<text x="383.60" y="369.40" font-size="23.00" style="letter-spacing:0.87px;">crit</text>
<g transform="translate(24.5,182.0) rotate(-90)">
<text x="-1.00" y="0.00" font-size="33.00" style="font-style:italic;stroke:none;">σ</text>
<text transform="translate(21.6,7.2) skewX(-4) scale(1,1.445)" x="0" y="0" font-size="33">/</text>
<text x="34.00" y="0.00" font-size="33.00" style="font-style:italic;stroke:none;">w</text>
</g>
<g transform="translate(448.0,175.4) rotate(-90)">
<text x="-1.00" y="0.00" font-size="33.00" style="font-style:italic;stroke:none;">σ</text>
<text x="17.40" y="-12.70" font-size="22.00">2</text>
<text x="32.30" y="0.00" font-size="33.00" style="font-style:italic;stroke:none;">β</text>
<text transform="translate(53.0,7.0) skewX(-4) scale(1,1.454)" x="0" y="0" font-size="33">/</text>
<text x="65.20" y="0.00" font-size="33.00" style="font-style:italic;stroke:none;">w</text>
<text x="89.10" y="-12.30" font-size="22.00">2</text>
</g>
<g transform="translate(818.7,152.5) rotate(-90)">
<text x="-7.90" y="0.00" font-size="33.00" style="font-style:italic;stroke:none;">β</text>
</g>
</svg></body></html>
